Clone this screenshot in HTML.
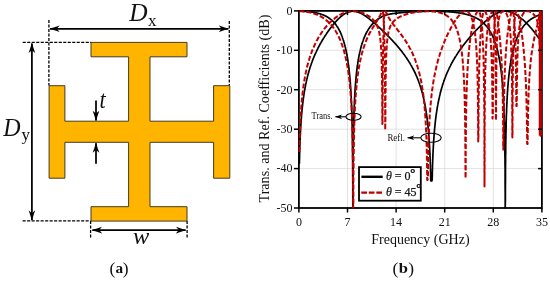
<!DOCTYPE html>
<html><head><meta charset="utf-8"><title>Figure</title>
<style>html,body{margin:0;padding:0;background:#fff}svg{display:block}text{font-family:"Liberation Serif",serif;fill:#111}</style></head>
<body>
<svg width="550" height="281" viewBox="0 0 550 281">
<rect width="550" height="281" fill="#fff"/>
<defs><marker id="ah" viewBox="0 0 10 8" refX="9.3" refY="4" markerWidth="10.4" markerHeight="8.3" markerUnits="userSpaceOnUse" orient="auto-start-reverse"><path d="M0,0.8 Q5,2.6 10,4 Q5,5.4 0,7.2 L2.7,4 Z" fill="#000" stroke="none"/></marker><marker id="ah2" viewBox="0 0 8 6" refX="7.6" refY="3" markerWidth="7" markerHeight="5.2" markerUnits="userSpaceOnUse" orient="auto-start-reverse"><path d="M0,0.3 L8,3 L0,5.7 L2,3 Z" fill="#000"/></marker></defs>
<g id="unit-cell">
<polygon points="91.0,42.4 187.0,42.4 187.0,56.8 150.0,56.8 150.0,121.2 213.6,121.2 213.6,85.7 229.8,85.7 229.8,178.2 213.6,178.2 213.6,142.3 150.0,142.3 150.0,206.7 187.0,206.7 187.0,221.1 91.0,221.1 91.0,206.7 128.6,206.7 128.6,142.3 64.9,142.3 64.9,178.2 49.1,178.2 49.1,85.7 64.9,85.7 64.9,121.2 128.6,121.2 128.6,56.8 91.0,56.8" fill="#ffb400" stroke="#453a22" stroke-width="1"/>
<g stroke="#000" stroke-width="1.3" fill="none" stroke-dasharray="3.1 1.4"><path d="M48.9,19.9 V85.5"/><path d="M229.3,21 V85.5"/><path d="M22.7,42.3 H91"/><path d="M22.6,220.9 H90.5"/><path d="M90.6,221 V237.5"/><path d="M187.1,221 V238"/></g>
<g stroke="#000" stroke-width="1.75" fill="none"><path d="M50,28.8 H228.4" marker-start="url(#ah)" marker-end="url(#ah)"/><path d="M31.9,43.4 V220" marker-start="url(#ah)" marker-end="url(#ah)"/><path d="M92.4,230.1 H185.6" marker-start="url(#ah)" marker-end="url(#ah)"/><path d="M96,100.4 V120.4" marker-end="url(#ah)"/><path d="M96,163.8 V143.2" marker-end="url(#ah)"/></g>
<text font-size="26"><tspan x="129.3" y="21.2" font-style="italic" textLength="18.3" lengthAdjust="spacingAndGlyphs">D</tspan><tspan x="147.9" y="26.3" font-size="17">x</tspan></text>
<text font-size="26"><tspan x="3.3" y="136" font-style="italic" textLength="17.3" lengthAdjust="spacingAndGlyphs">D</tspan><tspan x="21.4" y="139.8" font-size="17">y</tspan></text>
<text x="99.6" y="107.6" font-size="24.5" font-style="italic" textLength="6.2" lengthAdjust="spacingAndGlyphs">t</text>
<text x="132.9" y="244.4" font-size="22.5" font-style="italic" textLength="16.3" lengthAdjust="spacingAndGlyphs">w</text>
<text id="label-a" font-size="17.4"><tspan x="109.5" y="273.9">(</tspan><tspan x="115.5" y="273.1" font-size="13.8" font-weight="bold" textLength="7.6" lengthAdjust="spacingAndGlyphs">a</tspan><tspan x="122.7" y="273.9">)</tspan></text>
</g>
<g id="chart">
<g stroke="#d6d6d6" stroke-width="0.7" fill="none"><path d="M347.5,10.9 V208.0"/><path d="M396.1,10.9 V208.0"/><path d="M444.7,10.9 V208.0"/><path d="M493.3,10.9 V208.0"/><path d="M298.9,50.3 H541.9"/><path d="M298.9,89.7 H541.9"/><path d="M298.9,129.2 H541.9"/><path d="M298.9,168.6 H541.9"/></g>
<rect x="298.9" y="10.9" width="243.0" height="197.1" fill="none" stroke="#000" stroke-width="1.8"/>
<clipPath id="cp"><rect x="297.9" y="9.7" width="245.0" height="199.3"/></clipPath>
<g clip-path="url(#cp)" fill="none" stroke-linejoin="round">
<path d="M299.4,11.2 L299.8,11.2 L300.1,11.2 L300.5,11.2 L300.8,11.2 L301.2,11.2 L301.6,11.2 L301.9,11.2 L302.3,11.3 L302.7,11.3 L303.0,11.3 L303.4,11.3 L303.8,11.3 L304.1,11.3 L304.5,11.4 L304.8,11.4 L305.2,11.4 L305.6,11.4 L305.9,11.5 L306.3,11.5 L306.7,11.5 L307.0,11.5 L307.3,11.6 L307.7,11.6 L308.0,11.6 L308.3,11.7 L308.6,11.7 L309.0,11.7 L309.3,11.8 L309.6,11.8 L309.9,11.8 L310.2,11.9 L310.6,11.9 L310.9,11.9 L311.2,12.0 L311.5,12.0 L311.9,12.1 L312.2,12.1 L312.5,12.2 L312.8,12.2 L313.2,12.3 L313.5,12.3 L313.8,12.4 L314.1,12.4 L314.4,12.5 L314.8,12.6 L315.1,12.6 L315.4,12.7 L315.7,12.8 L316.1,12.8 L316.4,12.9 L316.7,13.0 L317.0,13.0 L317.4,13.1 L317.6,13.2 L317.9,13.3 L318.2,13.3 L318.5,13.4 L318.8,13.5 L319.0,13.6 L319.3,13.6 L319.6,13.7 L319.9,13.8 L320.2,13.9 L320.5,14.0 L320.7,14.1 L321.0,14.2 L321.3,14.3 L321.6,14.4 L321.9,14.5 L322.2,14.6 L322.4,14.7 L322.7,14.8 L323.0,14.9 L323.3,15.0 L323.6,15.1 L323.9,15.2 L324.1,15.4 L324.4,15.5 L324.7,15.6 L324.9,15.7 L325.1,15.8 L325.4,15.9 L325.6,16.1 L325.9,16.2 L326.1,16.3 L326.4,16.4 L326.6,16.6 L326.8,16.7 L327.1,16.8 L327.3,17.0 L327.6,17.1 L327.8,17.3 L328.0,17.4 L328.3,17.6 L328.5,17.7 L328.8,17.9 L329.0,18.1 L329.3,18.2 L329.5,18.4 L329.7,18.6 L329.9,18.7 L330.1,18.9 L330.3,19.0 L330.5,19.2 L330.8,19.3 L331.0,19.5 L331.2,19.7 L331.4,19.8 L331.6,20.0 L331.8,20.2 L332.0,20.4 L332.2,20.6 L332.4,20.7 L332.6,20.9 L332.8,21.1 L333.0,21.3 L333.2,21.5 L333.4,21.7 L333.6,21.9 L333.8,22.2 L334.0,22.4 L334.2,22.6 L334.4,22.8 L334.6,23.1 L334.7,23.3 L334.9,23.4 L335.1,23.6 L335.2,23.8 L335.4,24.0 L335.6,24.3 L335.7,24.5 L335.9,24.7 L336.0,24.9 L336.2,25.1 L336.4,25.3 L336.5,25.6 L336.7,25.8 L336.8,26.0 L337.0,26.3 L337.2,26.5 L337.3,26.8 L337.5,27.0 L337.7,27.3 L337.8,27.5 L338.0,27.8 L338.1,28.1 L338.3,28.3 L338.5,28.6 L338.6,28.9 L338.8,29.2 L338.9,29.5 L339.1,29.8 L339.2,30.0 L339.3,30.3 L339.5,30.5 L339.6,30.7 L339.7,31.0 L339.8,31.2 L340.0,31.5 L340.1,31.7 L340.2,32.0 L340.3,32.2 L340.4,32.5 L340.6,32.8 L340.7,33.0 L340.8,33.3 L340.9,33.6 L341.0,33.9 L341.2,34.2 L341.3,34.5 L341.4,34.8 L341.5,35.1 L341.6,35.4 L341.8,35.7 L341.9,36.0 L342.0,36.3 L342.1,36.6 L342.3,36.9 L342.4,37.3 L342.5,37.6 L342.6,38.0 L342.7,38.3 L342.9,38.7 L343.0,39.0 L343.1,39.4 L343.2,39.8 L343.3,40.1 L343.5,40.5 L343.6,40.9 L343.7,41.3 L343.8,41.7 L343.9,42.0 L344.0,42.3 L344.1,42.5 L344.2,42.8 L344.2,43.1 L344.3,43.4 L344.4,43.7 L344.5,44.0 L344.6,44.3 L344.6,44.6 L344.7,44.9 L344.8,45.2 L344.9,45.5 L345.0,45.8 L345.0,46.1 L345.1,46.5 L345.2,46.8 L345.3,47.1 L345.4,47.5 L345.4,47.8 L345.5,48.1 L345.6,48.5 L345.7,48.8 L345.8,49.2 L345.8,49.6 L345.9,49.9 L346.0,50.3 L346.1,50.7 L346.2,51.1 L346.2,51.5 L346.3,51.9 L346.4,52.3 L346.5,52.7 L346.6,53.1 L346.7,53.5 L346.7,53.9 L346.8,54.3 L346.9,54.8 L347.0,55.2 L347.1,55.7 L347.1,56.1 L347.2,56.6 L347.3,57.0 L347.4,57.5 L347.5,58.0 L347.5,58.5 L347.6,59.0 L347.7,59.5 L347.8,60.0 L347.9,60.5 L347.9,61.1 L348.0,61.6 L348.1,62.2 L348.2,62.7 L348.3,63.3 L348.3,63.9 L348.4,64.5 L348.5,65.1 L348.6,65.7 L348.6,66.0 L348.7,66.4 L348.7,66.7 L348.8,67.0 L348.8,67.3 L348.8,67.7 L348.9,68.0 L348.9,68.3 L349.0,68.7 L349.0,69.0 L349.0,69.4 L349.1,69.7 L349.1,70.1 L349.2,70.4 L349.2,70.8 L349.2,71.2 L349.3,71.5 L349.3,71.9 L349.4,72.3 L349.4,72.7 L349.4,73.1 L349.5,73.5 L349.5,73.9 L349.6,74.3 L349.6,74.7 L349.6,75.1 L349.7,75.5 L349.7,75.9 L349.8,76.4 L349.8,76.8 L349.8,77.2 L349.9,77.7 L349.9,78.1 L350.0,78.6 L350.0,79.1 L350.0,79.5 L350.1,80.0 L350.1,80.5 L350.2,81.0 L350.2,81.5 L350.2,82.0 L350.3,82.5 L350.3,83.1 L350.4,83.6 L350.4,84.1 L350.4,84.7 L350.5,85.3 L350.5,85.8 L350.6,86.4 L350.6,87.0 L350.6,87.6 L350.7,88.2 L350.7,88.8 L350.8,89.5 L350.8,90.1 L350.8,90.8 L350.9,91.4 L350.9,92.1 L351.0,92.8 L351.0,93.5 L351.1,94.3 L351.1,95.0 L351.1,95.8 L351.2,96.6 L351.2,97.4 L351.3,98.2 L351.3,99.0 L351.3,99.9 L351.4,100.8 L351.4,101.7 L351.5,102.6 L351.5,103.5 L351.5,104.5 L351.6,105.5 L351.6,106.6 L351.7,107.7 L351.7,108.8 L351.7,109.9 L351.8,111.1 L351.8,112.3 L351.9,113.6 L351.9,114.9 L351.9,116.3 L352.0,117.7 L352.0,119.2 L352.1,120.8 L352.1,122.5 L352.1,124.2 L352.2,126.0 L352.2,127.9 L352.3,130.0 L352.3,132.1 L352.3,134.4 L352.4,136.9 L352.4,139.6 L352.5,142.5 L352.5,145.6 L352.5,149.1 L352.6,153.0 L352.6,157.4 L352.7,162.4 L352.7,168.3 L352.7,175.4 L352.8,184.4 L352.8,196.7 L352.9,207.7 L353.0,207.5 L353.0,191.6 L353.1,180.8 L353.1,172.6 L353.2,166.0 L353.2,160.5 L353.2,155.7 L353.3,151.6 L353.3,147.9 L353.4,144.5 L353.4,141.5 L353.4,138.7 L353.5,136.1 L353.5,133.7 L353.6,131.5 L353.6,129.4 L353.6,127.4 L353.7,125.5 L353.7,123.7 L353.8,122.0 L353.8,120.4 L353.8,118.9 L353.9,117.4 L353.9,116.0 L354.0,114.7 L354.0,113.4 L354.0,112.2 L354.1,110.9 L354.1,109.8 L354.2,108.7 L354.2,107.6 L354.2,106.5 L354.3,105.5 L354.3,104.5 L354.4,103.6 L354.4,102.6 L354.4,101.7 L354.5,100.8 L354.5,100.0 L354.6,99.1 L354.6,98.3 L354.6,97.5 L354.7,96.7 L354.7,96.0 L354.8,95.2 L354.8,94.5 L354.8,93.8 L354.9,93.1 L354.9,92.4 L355.0,91.7 L355.0,91.1 L355.0,90.4 L355.1,89.8 L355.1,89.2 L355.2,88.6 L355.2,88.0 L355.2,87.4 L355.3,86.8 L355.3,86.2 L355.4,85.7 L355.4,85.1 L355.5,84.6 L355.5,84.1 L355.5,83.5 L355.6,83.0 L355.6,82.5 L355.7,82.0 L355.7,81.5 L355.7,81.1 L355.8,80.6 L355.8,80.1 L355.9,79.7 L355.9,79.2 L355.9,78.8 L356.0,78.3 L356.0,77.9 L356.1,77.4 L356.1,77.0 L356.1,76.6 L356.2,76.2 L356.2,75.8 L356.3,75.4 L356.3,75.0 L356.3,74.6 L356.4,74.2 L356.4,73.8 L356.5,73.4 L356.5,73.1 L356.5,72.7 L356.6,72.3 L356.6,72.0 L356.7,71.6 L356.7,71.3 L356.7,70.9 L356.8,70.6 L356.8,70.2 L356.9,69.9 L356.9,69.6 L356.9,69.2 L357.0,68.9 L357.0,68.6 L357.1,68.3 L357.1,67.9 L357.1,67.6 L357.2,67.3 L357.3,66.7 L357.3,66.1 L357.4,65.5 L357.5,64.9 L357.6,64.4 L357.7,63.8 L357.8,63.3 L357.8,62.7 L357.9,62.2 L358.0,61.7 L358.1,61.2 L358.2,60.7 L358.2,60.2 L358.3,59.7 L358.4,59.3 L358.5,58.8 L358.6,58.3 L358.6,57.9 L358.7,57.4 L358.8,57.0 L358.9,56.6 L359.0,56.1 L359.0,55.7 L359.1,55.3 L359.2,54.9 L359.3,54.5 L359.4,54.1 L359.4,53.7 L359.5,53.4 L359.6,53.0 L359.7,52.6 L359.8,52.2 L359.8,51.9 L359.9,51.5 L360.0,51.2 L360.1,50.8 L360.2,50.5 L360.3,50.1 L360.3,49.8 L360.4,49.5 L360.5,49.1 L360.6,48.8 L360.7,48.5 L360.7,48.2 L360.8,47.9 L360.9,47.6 L361.0,47.3 L361.1,47.0 L361.1,46.7 L361.2,46.4 L361.3,46.1 L361.4,45.8 L361.5,45.5 L361.5,45.3 L361.6,45.0 L361.7,44.7 L361.8,44.3 L361.9,43.9 L362.1,43.5 L362.2,43.1 L362.3,42.8 L362.4,42.4 L362.6,42.0 L362.7,41.7 L362.8,41.3 L362.9,41.0 L363.0,40.6 L363.2,40.3 L363.3,40.0 L363.4,39.6 L363.5,39.3 L363.6,39.0 L363.8,38.7 L363.9,38.4 L364.0,38.1 L364.1,37.8 L364.2,37.5 L364.4,37.2 L364.5,36.9 L364.6,36.6 L364.7,36.3 L364.9,36.0 L365.0,35.8 L365.1,35.5 L365.2,35.2 L365.3,35.0 L365.5,34.7 L365.6,34.5 L365.7,34.2 L365.8,34.0 L365.9,33.7 L366.1,33.5 L366.2,33.2 L366.3,33.0 L366.4,32.8 L366.5,32.6 L366.7,32.2 L366.9,32.0 L367.0,31.7 L367.2,31.4 L367.4,31.1 L367.5,30.8 L367.7,30.5 L367.8,30.3 L368.0,30.0 L368.2,29.7 L368.3,29.5 L368.5,29.2 L368.6,29.0 L368.8,28.7 L369.0,28.5 L369.1,28.3 L369.3,28.0 L369.5,27.8 L369.6,27.6 L369.8,27.3 L369.9,27.1 L370.1,26.9 L370.3,26.7 L370.4,26.5 L370.6,26.3 L370.7,26.0 L370.9,25.8 L371.1,25.6 L371.2,25.4 L371.4,25.2 L371.6,25.1 L371.7,24.9 L371.9,24.6 L372.1,24.4 L372.3,24.2 L372.5,23.9 L372.7,23.7 L372.9,23.5 L373.1,23.3 L373.3,23.1 L373.5,22.9 L373.7,22.7 L373.9,22.5 L374.1,22.3 L374.3,22.1 L374.5,21.9 L374.7,21.7 L374.9,21.5 L375.1,21.4 L375.3,21.2 L375.5,21.0 L375.8,20.8 L376.0,20.7 L376.2,20.5 L376.4,20.3 L376.6,20.2 L376.8,20.0 L377.0,19.9 L377.2,19.7 L377.4,19.5 L377.6,19.4 L377.8,19.2 L378.1,19.1 L378.3,18.9 L378.5,18.7 L378.8,18.6 L379.0,18.4 L379.3,18.2 L379.5,18.1 L379.7,17.9 L380.0,17.8 L380.2,17.7 L380.5,17.5 L380.7,17.4 L381.0,17.3 L381.2,17.1 L381.4,17.0 L381.7,16.9 L381.9,16.7 L382.2,16.6 L382.4,16.5 L382.7,16.4 L382.9,16.3 L383.2,16.2 L383.5,16.0 L383.7,15.9 L384.0,15.8 L384.3,15.7 L384.6,15.6 L384.9,15.5 L385.2,15.4 L385.4,15.3 L385.7,15.2 L386.0,15.1 L386.3,15.0 L386.6,14.9 L386.8,14.9 L387.1,14.8 L387.4,14.7 L387.7,14.6 L388.0,14.5 L388.3,14.5 L388.5,14.4 L388.9,14.3 L389.2,14.3 L389.5,14.2 L389.8,14.1 L390.2,14.1 L390.5,14.0 L390.8,13.9 L391.1,13.9 L391.4,13.8 L391.8,13.8 L392.1,13.7 L392.4,13.7 L392.7,13.6 L393.1,13.6 L393.4,13.5 L393.7,13.5 L394.0,13.5 L394.4,13.4 L394.7,13.4 L395.0,13.3 L395.3,13.3 L395.6,13.3 L396.0,13.2 L396.3,13.2 L396.6,13.2 L396.9,13.1 L397.3,13.1 L397.6,13.1 L397.9,13.0 L398.2,13.0 L398.6,13.0 L398.9,12.9 L399.2,12.9 L399.5,12.9 L399.8,12.8 L400.2,12.8 L400.5,12.8 L400.8,12.7 L401.1,12.7 L401.5,12.7 L401.8,12.7 L402.1,12.6 L402.4,12.6 L402.7,12.6 L403.1,12.5 L403.4,12.5 L403.7,12.5 L404.0,12.5 L404.4,12.4 L404.7,12.4 L405.0,12.4 L405.4,12.4 L405.7,12.3 L406.1,12.3 L406.5,12.3 L406.8,12.2 L407.2,12.2 L407.6,12.2 L407.9,12.1 L408.3,12.1 L408.6,12.1 L409.0,12.1 L409.4,12.0 L409.7,12.0 L410.1,12.0 L410.5,12.0 L410.8,11.9 L411.2,11.9 L411.5,11.9 L411.9,11.9 L412.3,11.8 L412.6,11.8 L413.0,11.8 L413.4,11.8 L413.7,11.7 L414.1,11.7 L414.5,11.7 L414.8,11.7 L415.2,11.7 L415.5,11.6 L415.9,11.6 L416.3,11.6 L416.6,11.6 L417.0,11.6 L417.4,11.5 L417.7,11.5 L418.1,11.5 L418.4,11.5 L418.8,11.5 L419.2,11.5 L419.5,11.4 L419.9,11.4 L420.3,11.4 L420.6,11.4 L421.0,11.4 L421.4,11.4 L421.7,11.4 L422.1,11.3 L422.4,11.3 L422.8,11.3 L423.2,11.3 L423.5,11.3 L423.9,11.3 L424.3,11.3 L424.6,11.3 L425.0,11.3 L425.4,11.3 L425.7,11.3 L426.1,11.2 L426.4,11.2 L426.8,11.2 L427.2,11.2 L427.5,11.2 L427.9,11.2 L428.3,11.2 L428.6,11.2 L429.0,11.2 L429.3,11.2 L429.7,11.2 L430.1,11.2 L430.4,11.2 L430.8,11.2 L431.2,11.2 L431.5,11.2 L431.9,11.2 L432.3,11.2 L432.6,11.2 L433.0,11.2 L433.3,11.2 L433.7,11.2 L434.1,11.2 L434.4,11.2 L434.8,11.2 L435.2,11.2 L435.5,11.2 L435.9,11.2 L436.2,11.2 L436.6,11.2 L437.0,11.3 L437.3,11.3 L437.7,11.3 L438.1,11.3 L438.4,11.3 L438.8,11.3 L439.2,11.3 L439.5,11.3 L439.9,11.3 L440.2,11.3 L440.6,11.4 L441.0,11.4 L441.3,11.4 L441.7,11.4 L442.1,11.4 L442.4,11.4 L442.8,11.4 L443.1,11.5 L443.5,11.5 L443.9,11.5 L444.2,11.5 L444.6,11.5 L445.0,11.5 L445.3,11.6 L445.7,11.6 L446.1,11.6 L446.4,11.6 L446.8,11.6 L447.1,11.7 L447.5,11.7 L447.9,11.7 L448.2,11.7 L448.6,11.8 L449.0,11.8 L449.3,11.8 L449.7,11.9 L450.0,11.9 L450.4,11.9 L450.7,11.9 L451.1,12.0 L451.4,12.0 L451.7,12.0 L452.0,12.1 L452.3,12.1 L452.7,12.1 L453.0,12.2 L453.3,12.2 L453.6,12.2 L454.0,12.3 L454.3,12.3 L454.6,12.3 L454.9,12.4 L455.3,12.4 L455.6,12.4 L455.9,12.5 L456.2,12.5 L456.5,12.6 L456.9,12.6 L457.2,12.6 L457.5,12.7 L457.8,12.7 L458.2,12.8 L458.5,12.8 L458.8,12.9 L459.1,12.9 L459.5,13.0 L459.8,13.0 L460.1,13.1 L460.4,13.1 L460.7,13.2 L461.1,13.3 L461.4,13.3 L461.7,13.4 L462.0,13.4 L462.4,13.5 L462.7,13.6 L463.0,13.6 L463.3,13.7 L463.6,13.8 L464.0,13.8 L464.3,13.9 L464.6,14.0 L464.9,14.0 L465.3,14.1 L465.6,14.2 L465.9,14.3 L466.2,14.3 L466.4,14.4 L466.7,14.5 L467.0,14.5 L467.3,14.6 L467.6,14.7 L467.8,14.8 L468.1,14.9 L468.4,14.9 L468.7,15.0 L469.0,15.1 L469.3,15.2 L469.5,15.3 L469.8,15.4 L470.1,15.5 L470.4,15.6 L470.7,15.7 L471.0,15.7 L471.2,15.8 L471.5,15.9 L471.8,16.1 L472.1,16.2 L472.4,16.3 L472.6,16.4 L472.9,16.5 L473.2,16.6 L473.5,16.7 L473.8,16.8 L474.1,17.0 L474.3,17.1 L474.6,17.2 L474.8,17.3 L475.1,17.4 L475.3,17.5 L475.6,17.7 L475.8,17.8 L476.0,17.9 L476.3,18.0 L476.5,18.1 L476.8,18.3 L477.0,18.4 L477.3,18.5 L477.5,18.7 L477.7,18.8 L478.0,19.0 L478.2,19.1 L478.5,19.2 L478.7,19.4 L478.9,19.5 L479.2,19.7 L479.4,19.9 L479.7,20.0 L479.9,20.2 L480.2,20.3 L480.4,20.5 L480.6,20.7 L480.9,20.9 L481.1,21.0 L481.3,21.2 L481.5,21.3 L481.7,21.5 L481.9,21.6 L482.1,21.8 L482.3,22.0 L482.5,22.1 L482.7,22.3 L482.9,22.5 L483.1,22.7 L483.3,22.8 L483.5,23.0 L483.7,23.2 L483.9,23.4 L484.1,23.6 L484.3,23.8 L484.5,24.0 L484.7,24.2 L484.9,24.4 L485.1,24.6 L485.3,24.8 L485.5,25.1 L485.7,25.3 L485.9,25.5 L486.1,25.7 L486.3,26.0 L486.5,26.2 L486.7,26.4 L486.8,26.5 L487.0,26.7 L487.1,27.0 L487.3,27.2 L487.5,27.4 L487.6,27.6 L487.8,27.8 L487.9,28.0 L488.1,28.2 L488.3,28.5 L488.4,28.7 L488.6,28.9 L488.8,29.2 L488.9,29.4 L489.1,29.6 L489.2,29.9 L489.4,30.1 L489.6,30.4 L489.7,30.6 L489.9,30.9 L490.0,31.2 L490.2,31.4 L490.4,31.7 L490.5,32.0 L490.7,32.3 L490.9,32.6 L491.0,32.9 L491.2,33.2 L491.3,33.5 L491.5,33.7 L491.6,33.9 L491.7,34.2 L491.8,34.4 L491.9,34.7 L492.1,34.9 L492.2,35.2 L492.3,35.4 L492.4,35.7 L492.5,35.9 L492.7,36.2 L492.8,36.5 L492.9,36.7 L493.0,37.0 L493.2,37.3 L493.3,37.6 L493.4,37.8 L493.5,38.1 L493.6,38.4 L493.8,38.7 L493.9,39.0 L494.0,39.3 L494.1,39.6 L494.2,40.0 L494.4,40.3 L494.5,40.6 L494.6,40.9 L494.7,41.3 L494.8,41.6 L495.0,41.9 L495.1,42.3 L495.2,42.6 L495.3,43.0 L495.5,43.4 L495.6,43.7 L495.7,44.1 L495.8,44.5 L495.9,44.9 L496.1,45.3 L496.2,45.7 L496.3,46.0 L496.3,46.2 L496.4,46.5 L496.5,46.8 L496.6,47.1 L496.7,47.4 L496.7,47.6 L496.8,47.9 L496.9,48.2 L497.0,48.5 L497.1,48.8 L497.1,49.1 L497.2,49.4 L497.3,49.8 L497.4,50.1 L497.5,50.4 L497.6,50.7 L497.6,51.1 L497.7,51.4 L497.8,51.7 L497.9,52.1 L498.0,52.4 L498.0,52.8 L498.1,53.1 L498.2,53.5 L498.3,53.8 L498.4,54.2 L498.4,54.6 L498.5,55.0 L498.6,55.3 L498.7,55.7 L498.8,56.1 L498.8,56.5 L498.9,56.9 L499.0,57.3 L499.1,57.8 L499.2,58.2 L499.2,58.6 L499.3,59.0 L499.4,59.5 L499.5,59.9 L499.6,60.4 L499.6,60.8 L499.7,61.3 L499.8,61.8 L499.9,62.3 L500.0,62.8 L500.1,63.3 L500.1,63.8 L500.2,64.3 L500.3,64.8 L500.4,65.4 L500.5,65.9 L500.5,66.5 L500.6,67.0 L500.7,67.6 L500.8,68.2 L500.9,68.8 L500.9,69.4 L501.0,70.0 L501.1,70.3 L501.1,70.7 L501.1,71.0 L501.2,71.3 L501.2,71.6 L501.3,72.0 L501.3,72.3 L501.3,72.6 L501.4,73.0 L501.4,73.3 L501.5,73.7 L501.5,74.0 L501.5,74.4 L501.6,74.8 L501.6,75.1 L501.7,75.5 L501.7,75.9 L501.7,76.2 L501.8,76.6 L501.8,77.0 L501.9,77.4 L501.9,77.8 L501.9,78.2 L502.0,78.6 L502.0,79.0 L502.1,79.5 L502.1,79.9 L502.2,80.3 L502.2,80.7 L502.2,81.2 L502.3,81.6 L502.3,82.1 L502.4,82.5 L502.4,83.0 L502.4,83.5 L502.5,84.0 L502.5,84.5 L502.6,84.9 L502.6,85.4 L502.6,86.0 L502.7,86.5 L502.7,87.0 L502.8,87.5 L502.8,88.1 L502.8,88.6 L502.9,89.2 L502.9,89.8 L503.0,90.3 L503.0,90.9 L503.0,91.5 L503.1,92.1 L503.1,92.8 L503.2,93.4 L503.2,94.1 L503.2,94.7 L503.3,95.4 L503.3,96.1 L503.4,96.8 L503.4,97.5 L503.4,98.2 L503.5,99.0 L503.5,99.8 L503.6,100.5 L503.6,101.3 L503.6,102.2 L503.7,103.0 L503.7,103.9 L503.8,104.8 L503.8,105.7 L503.8,106.6 L503.9,107.6 L503.9,108.6 L504.0,109.6 L504.0,110.7 L504.0,111.8 L504.1,112.9 L504.1,114.0 L504.2,115.3 L504.2,116.5 L504.2,117.8 L504.3,119.2 L504.3,120.6 L504.4,122.0 L504.4,123.6 L504.5,125.2 L504.5,126.9 L504.5,128.6 L504.6,130.5 L504.6,132.5 L504.7,134.6 L504.7,136.8 L504.7,139.2 L504.8,141.8 L504.8,144.6 L504.9,147.6 L504.9,151.0 L504.9,154.7 L505.0,158.8 L505.0,163.5 L505.1,169.0 L505.1,175.6 L505.1,183.7 L505.2,194.4 L505.2,207.7 L505.4,200.6 L505.4,188.2 L505.5,179.0 L505.5,171.9 L505.5,165.9 L505.6,160.9 L505.6,156.5 L505.7,152.6 L505.7,149.1 L505.7,145.9 L505.8,143.0 L505.8,140.4 L505.9,137.9 L505.9,135.6 L505.9,133.4 L506.0,131.4 L506.0,129.4 L506.1,127.6 L506.1,125.9 L506.1,124.3 L506.2,122.7 L506.2,121.2 L506.3,119.8 L506.3,118.4 L506.3,117.1 L506.4,115.8 L506.4,114.6 L506.5,113.4 L506.5,112.2 L506.6,111.1 L506.6,110.0 L506.6,109.0 L506.7,108.0 L506.7,107.0 L506.8,106.1 L506.8,105.1 L506.8,104.2 L506.9,103.4 L506.9,102.5 L507.0,101.7 L507.0,100.8 L507.0,100.1 L507.1,99.3 L507.1,98.5 L507.2,97.8 L507.2,97.0 L507.2,96.3 L507.3,95.6 L507.3,95.0 L507.4,94.3 L507.4,93.6 L507.4,93.0 L507.5,92.4 L507.5,91.7 L507.6,91.1 L507.6,90.5 L507.6,89.9 L507.7,89.4 L507.7,88.8 L507.8,88.2 L507.8,87.7 L507.8,87.2 L507.9,86.6 L507.9,86.1 L508.0,85.6 L508.0,85.1 L508.0,84.6 L508.1,84.1 L508.1,83.6 L508.2,83.1 L508.2,82.7 L508.2,82.2 L508.3,81.7 L508.3,81.3 L508.4,80.8 L508.4,80.4 L508.4,80.0 L508.5,79.5 L508.5,79.1 L508.6,78.7 L508.6,78.3 L508.6,77.9 L508.7,77.5 L508.7,77.1 L508.8,76.7 L508.8,76.3 L508.9,75.9 L508.9,75.5 L508.9,75.2 L509.0,74.8 L509.0,74.4 L509.1,74.1 L509.1,73.7 L509.1,73.4 L509.2,73.0 L509.2,72.7 L509.3,72.3 L509.3,72.0 L509.3,71.6 L509.4,71.3 L509.4,71.0 L509.5,70.7 L509.5,70.3 L509.5,70.0 L509.6,69.7 L509.6,69.4 L509.7,68.8 L509.8,68.2 L509.9,67.6 L509.9,67.0 L510.0,66.4 L510.1,65.9 L510.2,65.3 L510.3,64.8 L510.3,64.2 L510.4,63.7 L510.5,63.2 L510.6,62.7 L510.7,62.2 L510.7,61.7 L510.8,61.2 L510.9,60.8 L511.0,60.3 L511.1,59.8 L511.2,59.4 L511.2,58.9 L511.3,58.5 L511.4,58.1 L511.5,57.6 L511.6,57.2 L511.6,56.8 L511.7,56.4 L511.8,56.0 L511.9,55.6 L512.0,55.2 L512.0,54.8 L512.1,54.4 L512.2,54.0 L512.3,53.7 L512.4,53.3 L512.4,52.9 L512.5,52.6 L512.6,52.2 L512.7,51.9 L512.8,51.5 L512.8,51.2 L512.9,50.9 L513.0,50.5 L513.1,50.2 L513.2,49.9 L513.2,49.6 L513.3,49.2 L513.4,48.9 L513.5,48.6 L513.6,48.3 L513.7,48.0 L513.7,47.7 L513.8,47.4 L513.9,47.1 L514.0,46.8 L514.1,46.5 L514.1,46.3 L514.2,46.0 L514.3,45.7 L514.4,45.4 L514.5,45.2 L514.6,44.8 L514.7,44.4 L514.8,44.0 L514.9,43.6 L515.1,43.2 L515.2,42.8 L515.3,42.5 L515.4,42.1 L515.5,41.8 L515.7,41.4 L515.8,41.1 L515.9,40.7 L516.0,40.4 L516.2,40.1 L516.3,39.7 L516.4,39.4 L516.5,39.1 L516.6,38.8 L516.8,38.5 L516.9,38.2 L517.0,37.9 L517.1,37.6 L517.2,37.3 L517.4,37.0 L517.5,36.7 L517.6,36.4 L517.7,36.2 L517.9,35.9 L518.0,35.6 L518.1,35.4 L518.2,35.1 L518.3,34.8 L518.5,34.6 L518.6,34.3 L518.7,34.1 L518.8,33.8 L518.9,33.6 L519.1,33.4 L519.2,33.1 L519.3,32.9 L519.4,32.7 L519.6,32.3 L519.7,32.0 L519.9,31.8 L520.1,31.5 L520.2,31.2 L520.4,30.9 L520.6,30.6 L520.7,30.4 L520.9,30.1 L521.0,29.8 L521.2,29.6 L521.4,29.3 L521.5,29.1 L521.7,28.8 L521.8,28.6 L522.0,28.3 L522.2,28.1 L522.3,27.9 L522.5,27.6 L522.7,27.4 L522.8,27.2 L523.0,27.0 L523.1,26.8 L523.3,26.5 L523.5,26.3 L523.6,26.1 L523.8,25.9 L523.9,25.7 L524.1,25.5 L524.3,25.3 L524.4,25.1 L524.6,24.9 L524.8,24.7 L525.0,24.5 L525.2,24.3 L525.4,24.0 L525.6,23.8 L525.8,23.6 L526.0,23.4 L526.2,23.2 L526.4,23.0 L526.6,22.8 L526.8,22.6 L527.0,22.4 L527.2,22.2 L527.4,22.0 L527.6,21.8 L527.8,21.7 L528.0,21.5 L528.2,21.3 L528.4,21.1 L528.6,21.0 L528.8,20.8 L529.0,20.6 L529.2,20.5 L529.4,20.3 L529.6,20.2 L529.8,20.0 L530.0,19.9 L530.3,19.7 L530.5,19.5 L530.8,19.3 L531.0,19.2 L531.2,19.0 L531.5,18.8 L531.7,18.7 L532.0,18.5 L532.2,18.4 L532.5,18.2 L532.7,18.1 L532.9,17.9 L533.2,17.8 L533.4,17.7 L533.7,17.5 L533.9,17.4 L534.2,17.3 L534.4,17.1 L534.6,17.0 L534.9,16.9 L535.1,16.8 L535.4,16.6 L535.6,16.5 L535.8,16.4 L536.1,16.3 L536.3,16.2 L536.6,16.1 L536.8,16.0 L537.1,15.8 L537.4,15.7 L537.7,15.6 L537.9,15.5 L538.2,15.4 L538.5,15.2 L538.8,15.1 L539.1,15.0 L539.4,14.9 L539.6,14.8 L539.9,14.7 L540.2,14.6 L540.5,14.5 L540.8,14.4 L541.1,14.3 L541.3,14.3 L541.5,14.2" stroke="#000" stroke-width="1.7"/>
<path d="M299.4,163.7 L299.4,161.8 L299.5,160.0 L299.5,158.2 L299.6,156.6 L299.6,155.0 L299.6,153.5 L299.7,152.1 L299.7,150.7 L299.8,149.3 L299.8,148.1 L299.8,146.8 L299.9,145.6 L299.9,144.5 L300.0,143.4 L300.0,142.3 L300.0,141.3 L300.1,140.2 L300.1,139.3 L300.2,138.3 L300.2,137.4 L300.2,136.5 L300.3,135.6 L300.3,134.7 L300.4,133.9 L300.4,133.1 L300.4,132.3 L300.5,131.5 L300.5,130.7 L300.6,130.0 L300.6,129.2 L300.6,128.5 L300.7,127.8 L300.7,127.1 L300.8,126.4 L300.8,125.8 L300.8,125.1 L300.9,124.5 L300.9,123.9 L301.0,123.3 L301.0,122.7 L301.0,122.1 L301.1,121.5 L301.1,120.9 L301.2,120.3 L301.2,119.8 L301.3,119.2 L301.3,118.7 L301.3,118.2 L301.4,117.7 L301.4,117.1 L301.5,116.6 L301.5,116.1 L301.5,115.7 L301.6,115.2 L301.6,114.7 L301.7,114.2 L301.7,113.8 L301.7,113.3 L301.8,112.8 L301.8,112.4 L301.9,112.0 L301.9,111.5 L301.9,111.1 L302.0,110.7 L302.0,110.2 L302.1,109.8 L302.1,109.4 L302.1,109.0 L302.2,108.6 L302.2,108.2 L302.3,107.8 L302.3,107.4 L302.3,107.1 L302.4,106.7 L302.4,106.3 L302.5,105.9 L302.5,105.6 L302.5,105.2 L302.6,104.9 L302.6,104.5 L302.7,104.1 L302.7,103.8 L302.7,103.5 L302.8,103.1 L302.8,102.8 L302.9,102.4 L302.9,102.1 L302.9,101.8 L303.0,101.5 L303.0,101.1 L303.1,100.8 L303.1,100.5 L303.1,100.2 L303.2,99.9 L303.3,99.3 L303.3,98.7 L303.4,98.1 L303.5,97.5 L303.6,96.9 L303.7,96.4 L303.8,95.8 L303.8,95.3 L303.9,94.7 L304.0,94.2 L304.1,93.7 L304.2,93.2 L304.2,92.6 L304.3,92.1 L304.4,91.7 L304.5,91.2 L304.6,90.7 L304.6,90.2 L304.7,89.8 L304.8,89.3 L304.9,88.8 L305.0,88.4 L305.0,87.9 L305.1,87.5 L305.2,87.1 L305.3,86.7 L305.4,86.2 L305.4,85.8 L305.5,85.4 L305.6,85.0 L305.7,84.6 L305.8,84.2 L305.9,83.8 L305.9,83.4 L306.0,83.0 L306.1,82.6 L306.2,82.3 L306.3,81.9 L306.3,81.5 L306.4,81.2 L306.5,80.8 L306.6,80.4 L306.7,80.1 L306.7,79.7 L306.8,79.4 L306.9,79.0 L307.0,78.7 L307.1,78.4 L307.1,78.0 L307.2,77.7 L307.3,77.4 L307.4,77.0 L307.5,76.7 L307.5,76.4 L307.6,76.1 L307.7,75.8 L307.8,75.4 L307.9,75.1 L307.9,74.8 L308.0,74.5 L308.1,74.2 L308.2,73.9 L308.3,73.6 L308.4,73.3 L308.4,73.0 L308.5,72.7 L308.6,72.5 L308.7,72.2 L308.8,71.9 L308.8,71.6 L308.9,71.3 L309.0,71.0 L309.1,70.8 L309.2,70.5 L309.2,70.2 L309.3,69.9 L309.4,69.5 L309.6,69.2 L309.7,68.8 L309.8,68.4 L309.9,68.0 L310.0,67.6 L310.2,67.2 L310.3,66.9 L310.4,66.5 L310.5,66.1 L310.7,65.7 L310.8,65.4 L310.9,65.0 L311.0,64.7 L311.1,64.3 L311.3,64.0 L311.4,63.6 L311.5,63.3 L311.6,63.0 L311.7,62.6 L311.9,62.3 L312.0,62.0 L312.1,61.6 L312.2,61.3 L312.3,61.0 L312.5,60.7 L312.6,60.3 L312.7,60.0 L312.8,59.7 L313.0,59.4 L313.1,59.1 L313.2,58.8 L313.3,58.5 L313.4,58.2 L313.6,57.9 L313.7,57.6 L313.8,57.3 L313.9,57.0 L314.0,56.7 L314.2,56.4 L314.3,56.1 L314.4,55.9 L314.5,55.6 L314.6,55.3 L314.8,55.0 L314.9,54.7 L315.0,54.5 L315.1,54.2 L315.3,53.9 L315.4,53.6 L315.5,53.4 L315.6,53.1 L315.7,52.8 L315.9,52.6 L316.0,52.3 L316.1,52.1 L316.2,51.8 L316.3,51.5 L316.5,51.3 L316.6,51.0 L316.7,50.8 L316.8,50.5 L316.9,50.3 L317.1,50.0 L317.2,49.8 L317.3,49.5 L317.4,49.3 L317.6,49.0 L317.7,48.8 L317.8,48.6 L317.9,48.3 L318.0,48.1 L318.2,47.8 L318.3,47.6 L318.4,47.4 L318.5,47.1 L318.6,46.9 L318.8,46.7 L318.9,46.4 L319.0,46.2 L319.2,45.9 L319.3,45.6 L319.5,45.3 L319.7,45.0 L319.8,44.7 L320.0,44.4 L320.1,44.1 L320.3,43.8 L320.5,43.5 L320.6,43.2 L320.8,42.9 L320.9,42.7 L321.1,42.4 L321.3,42.1 L321.4,41.8 L321.6,41.5 L321.8,41.3 L321.9,41.0 L322.1,40.7 L322.2,40.4 L322.4,40.2 L322.6,39.9 L322.7,39.6 L322.9,39.4 L323.0,39.1 L323.2,38.8 L323.4,38.6 L323.5,38.3 L323.7,38.0 L323.9,37.8 L324.0,37.5 L324.2,37.3 L324.3,37.0 L324.5,36.8 L324.7,36.5 L324.8,36.2 L325.0,36.0 L325.1,35.7 L325.3,35.5 L325.5,35.3 L325.6,35.0 L325.8,34.8 L325.9,34.5 L326.1,34.3 L326.3,34.0 L326.4,33.8 L326.6,33.6 L326.8,33.3 L326.9,33.1 L327.1,32.8 L327.2,32.6 L327.4,32.4 L327.6,32.1 L327.7,31.9 L327.9,31.7 L328.0,31.4 L328.2,31.2 L328.4,31.0 L328.5,30.8 L328.7,30.5 L328.9,30.3 L329.0,30.1 L329.2,29.9 L329.3,29.6 L329.5,29.4 L329.7,29.2 L329.8,29.0 L330.0,28.8 L330.1,28.6 L330.3,28.3 L330.5,28.1 L330.6,27.9 L330.8,27.7 L331.0,27.5 L331.1,27.3 L331.3,27.1 L331.4,26.9 L331.6,26.6 L331.8,26.4 L331.9,26.2 L332.1,26.0 L332.2,25.8 L332.4,25.6 L332.6,25.4 L332.7,25.2 L332.9,25.0 L333.1,24.8 L333.2,24.6 L333.4,24.4 L333.5,24.2 L333.7,24.0 L333.9,23.9 L334.0,23.7 L334.2,23.5 L334.3,23.3 L334.5,23.1 L334.7,22.9 L334.9,22.6 L335.1,22.4 L335.3,22.2 L335.5,21.9 L335.7,21.7 L335.9,21.5 L336.1,21.3 L336.3,21.0 L336.5,20.8 L336.7,20.6 L336.9,20.4 L337.1,20.2 L337.3,20.0 L337.5,19.8 L337.7,19.6 L337.9,19.3 L338.1,19.1 L338.3,18.9 L338.5,18.7 L338.7,18.5 L338.9,18.4 L339.1,18.2 L339.3,18.0 L339.5,17.8 L339.8,17.6 L340.0,17.4 L340.2,17.2 L340.4,17.0 L340.6,16.9 L340.8,16.7 L341.0,16.5 L341.2,16.3 L341.4,16.2 L341.6,16.0 L341.8,15.9 L342.0,15.7 L342.2,15.5 L342.4,15.4 L342.6,15.2 L342.8,15.1 L343.0,14.9 L343.2,14.7 L343.5,14.6 L343.7,14.4 L343.9,14.2 L344.2,14.1 L344.4,13.9 L344.7,13.8 L344.9,13.6 L345.2,13.5 L345.4,13.3 L345.6,13.2 L345.9,13.1 L346.1,13.0 L346.4,12.8 L346.6,12.7 L346.9,12.6 L347.1,12.5 L347.4,12.4 L347.7,12.3 L347.9,12.1 L348.2,12.0 L348.5,11.9 L348.8,11.8 L349.1,11.8 L349.4,11.7 L349.6,11.6 L349.9,11.5 L350.2,11.5 L350.6,11.4 L350.9,11.4 L351.2,11.3 L351.5,11.3 L351.9,11.2 L352.2,11.2 L352.6,11.2 L352.9,11.2 L353.3,11.2 L353.7,11.2 L354.0,11.2 L354.4,11.3 L354.7,11.3 L355.0,11.4 L355.3,11.4 L355.7,11.5 L356.0,11.5 L356.3,11.6 L356.6,11.7 L356.9,11.8 L357.1,11.8 L357.4,11.9 L357.7,12.0 L358.0,12.1 L358.3,12.2 L358.6,12.3 L358.8,12.4 L359.1,12.5 L359.4,12.7 L359.7,12.8 L359.9,12.9 L360.2,13.0 L360.4,13.1 L360.7,13.2 L360.9,13.3 L361.1,13.5 L361.4,13.6 L361.6,13.7 L361.9,13.8 L362.1,14.0 L362.4,14.1 L362.6,14.3 L362.8,14.4 L363.1,14.5 L363.3,14.7 L363.6,14.8 L363.8,15.0 L364.0,15.1 L364.3,15.3 L364.5,15.4 L364.8,15.6 L365.0,15.8 L365.3,15.9 L365.5,16.1 L365.7,16.3 L366.0,16.4 L366.2,16.6 L366.5,16.8 L366.7,16.9 L367.0,17.1 L367.2,17.3 L367.4,17.4 L367.6,17.6 L367.8,17.7 L368.0,17.9 L368.2,18.0 L368.4,18.2 L368.6,18.4 L368.8,18.5 L369.0,18.7 L369.2,18.8 L369.4,19.0 L369.6,19.1 L369.8,19.3 L370.0,19.5 L370.2,19.6 L370.4,19.8 L370.6,19.9 L370.8,20.1 L371.0,20.3 L371.2,20.4 L371.4,20.6 L371.6,20.8 L371.8,20.9 L372.0,21.1 L372.2,21.3 L372.4,21.4 L372.6,21.6 L372.8,21.8 L373.0,22.0 L373.2,22.1 L373.5,22.3 L373.7,22.5 L373.9,22.6 L374.1,22.8 L374.3,23.0 L374.5,23.2 L374.7,23.3 L374.9,23.5 L375.1,23.7 L375.3,23.9 L375.5,24.1 L375.7,24.2 L375.9,24.4 L376.1,24.6 L376.3,24.8 L376.5,24.9 L376.7,25.1 L376.9,25.3 L377.1,25.5 L377.3,25.7 L377.5,25.9 L377.7,26.0 L377.9,26.2 L378.1,26.4 L378.3,26.6 L378.5,26.8 L378.7,27.0 L378.9,27.1 L379.1,27.3 L379.3,27.5 L379.5,27.7 L379.7,27.9 L379.9,28.1 L380.1,28.3 L380.3,28.5 L380.5,28.6 L380.7,28.8 L380.9,29.0 L381.1,29.2 L381.3,29.4 L381.5,29.6 L381.7,29.8 L381.9,30.0 L382.1,30.2 L382.3,30.4 L382.5,30.5 L382.7,30.7 L382.9,30.9 L383.1,31.1 L383.3,31.3 L383.5,31.5 L383.7,31.7 L383.9,31.9 L384.1,32.1 L384.3,32.3 L384.5,32.5 L384.8,32.7 L385.0,32.9 L385.2,33.1 L385.4,33.3 L385.6,33.5 L385.8,33.7 L386.0,33.9 L386.2,34.1 L386.4,34.3 L386.6,34.5 L386.8,34.7 L387.0,34.9 L387.2,35.1 L387.4,35.3 L387.6,35.5 L387.8,35.7 L388.0,35.9 L388.2,36.1 L388.4,36.3 L388.6,36.5 L388.8,36.7 L389.0,36.9 L389.2,37.1 L389.4,37.3 L389.6,37.6 L389.8,37.8 L390.0,38.0 L390.2,38.2 L390.4,38.4 L390.6,38.6 L390.8,38.8 L391.0,39.0 L391.2,39.2 L391.4,39.5 L391.6,39.7 L391.8,39.9 L392.0,40.1 L392.2,40.3 L392.4,40.5 L392.6,40.7 L392.8,41.0 L393.0,41.2 L393.2,41.4 L393.4,41.6 L393.6,41.8 L393.8,42.1 L394.0,42.3 L394.2,42.5 L394.4,42.7 L394.6,42.9 L394.8,43.2 L395.0,43.4 L395.2,43.6 L395.4,43.9 L395.6,44.1 L395.8,44.3 L396.1,44.5 L396.3,44.8 L396.5,45.0 L396.7,45.2 L396.9,45.5 L397.1,45.7 L397.3,45.9 L397.5,46.2 L397.6,46.4 L397.8,46.5 L397.9,46.7 L398.1,46.9 L398.3,47.1 L398.4,47.3 L398.6,47.5 L398.8,47.7 L398.9,47.9 L399.1,48.1 L399.2,48.3 L399.4,48.5 L399.6,48.7 L399.7,48.9 L399.9,49.1 L400.0,49.3 L400.2,49.5 L400.4,49.7 L400.5,49.9 L400.7,50.1 L400.9,50.3 L401.0,50.5 L401.2,50.7 L401.3,50.9 L401.5,51.1 L401.7,51.3 L401.8,51.5 L402.0,51.7 L402.1,51.9 L402.3,52.1 L402.5,52.3 L402.6,52.5 L402.8,52.8 L403.0,53.0 L403.1,53.2 L403.3,53.4 L403.4,53.6 L403.6,53.8 L403.8,54.1 L403.9,54.3 L404.1,54.5 L404.2,54.7 L404.4,54.9 L404.6,55.2 L404.7,55.4 L404.9,55.6 L405.1,55.8 L405.2,56.1 L405.4,56.3 L405.5,56.5 L405.7,56.8 L405.9,57.0 L406.0,57.2 L406.2,57.5 L406.3,57.7 L406.5,57.9 L406.7,58.2 L406.8,58.4 L407.0,58.6 L407.1,58.9 L407.3,59.1 L407.5,59.4 L407.6,59.6 L407.8,59.9 L408.0,60.1 L408.1,60.4 L408.3,60.6 L408.4,60.9 L408.6,61.1 L408.8,61.4 L408.9,61.6 L409.1,61.9 L409.2,62.2 L409.4,62.4 L409.6,62.7 L409.7,63.0 L409.9,63.2 L410.1,63.5 L410.2,63.8 L410.4,64.0 L410.5,64.3 L410.7,64.6 L410.9,64.9 L411.0,65.1 L411.2,65.4 L411.3,65.7 L411.5,66.0 L411.7,66.3 L411.8,66.6 L412.0,66.9 L412.2,67.2 L412.3,67.5 L412.5,67.8 L412.6,68.1 L412.8,68.4 L412.9,68.6 L413.0,68.8 L413.2,69.1 L413.3,69.3 L413.4,69.5 L413.5,69.8 L413.6,70.0 L413.8,70.2 L413.9,70.5 L414.0,70.7 L414.1,71.0 L414.3,71.2 L414.4,71.5 L414.5,71.7 L414.6,72.0 L414.7,72.2 L414.9,72.5 L415.0,72.7 L415.1,73.0 L415.2,73.2 L415.3,73.5 L415.5,73.8 L415.6,74.0 L415.7,74.3 L415.8,74.6 L415.9,74.8 L416.1,75.1 L416.2,75.4 L416.3,75.7 L416.4,75.9 L416.6,76.2 L416.7,76.5 L416.8,76.8 L416.9,77.1 L417.0,77.4 L417.2,77.7 L417.3,78.0 L417.4,78.3 L417.5,78.5 L417.6,78.9 L417.8,79.2 L417.9,79.5 L418.0,79.8 L418.1,80.1 L418.2,80.4 L418.4,80.7 L418.5,81.0 L418.6,81.4 L418.7,81.7 L418.9,82.0 L419.0,82.3 L419.1,82.7 L419.2,83.0 L419.3,83.4 L419.5,83.7 L419.6,84.1 L419.7,84.4 L419.8,84.8 L419.9,85.1 L420.1,85.5 L420.2,85.9 L420.3,86.2 L420.4,86.6 L420.5,87.0 L420.7,87.4 L420.8,87.7 L420.9,88.1 L421.0,88.5 L421.2,88.9 L421.2,89.2 L421.3,89.5 L421.4,89.8 L421.5,90.0 L421.6,90.3 L421.6,90.6 L421.7,90.9 L421.8,91.2 L421.9,91.4 L422.0,91.7 L422.0,92.0 L422.1,92.3 L422.2,92.6 L422.3,92.9 L422.4,93.2 L422.4,93.5 L422.5,93.8 L422.6,94.1 L422.7,94.4 L422.8,94.8 L422.8,95.1 L422.9,95.4 L423.0,95.7 L423.1,96.1 L423.2,96.4 L423.3,96.7 L423.3,97.1 L423.4,97.4 L423.5,97.7 L423.6,98.1 L423.7,98.4 L423.7,98.8 L423.8,99.2 L423.9,99.5 L424.0,99.9 L424.1,100.3 L424.1,100.6 L424.2,101.0 L424.3,101.4 L424.4,101.8 L424.5,102.2 L424.5,102.6 L424.6,103.0 L424.7,103.4 L424.8,103.8 L424.9,104.2 L424.9,104.6 L425.0,105.0 L425.1,105.5 L425.2,105.9 L425.3,106.3 L425.4,106.8 L425.4,107.2 L425.5,107.7 L425.6,108.2 L425.7,108.6 L425.8,109.1 L425.8,109.6 L425.9,110.1 L426.0,110.6 L426.1,111.1 L426.2,111.6 L426.2,112.1 L426.3,112.7 L426.4,113.2 L426.5,113.8 L426.6,114.3 L426.6,114.9 L426.7,115.5 L426.8,116.1 L426.9,116.6 L427.0,117.3 L427.0,117.9 L427.1,118.2 L427.1,118.5 L427.2,118.8 L427.2,119.1 L427.2,119.5 L427.3,119.8 L427.3,120.1 L427.4,120.5 L427.4,120.8 L427.4,121.1 L427.5,121.5 L427.5,121.8 L427.6,122.2 L427.6,122.5 L427.7,122.9 L427.7,123.3 L427.7,123.6 L427.8,124.0 L427.8,124.4 L427.9,124.8 L427.9,125.1 L427.9,125.5 L428.0,125.9 L428.0,126.3 L428.1,126.7 L428.1,127.1 L428.1,127.5 L428.2,128.0 L428.2,128.4 L428.3,128.8 L428.3,129.2 L428.3,129.7 L428.4,130.1 L428.4,130.6 L428.5,131.0 L428.5,131.5 L428.5,132.0 L428.6,132.4 L428.6,132.9 L428.7,133.4 L428.7,133.9 L428.7,134.4 L428.8,134.9 L428.8,135.4 L428.9,136.0 L428.9,136.5 L428.9,137.0 L429.0,137.6 L429.0,138.2 L429.1,138.7 L429.1,139.3 L429.1,139.9 L429.2,140.5 L429.2,141.1 L429.3,141.7 L429.3,142.4 L429.3,143.0 L429.4,143.7 L429.4,144.3 L429.5,145.0 L429.5,145.7 L429.5,146.4 L429.6,147.2 L429.6,147.9 L429.7,148.7 L429.7,149.5 L429.7,150.3 L429.8,151.1 L429.8,151.9 L429.9,152.8 L429.9,153.7 L430.0,154.6 L430.0,155.5 L430.0,156.5 L430.1,157.4 L430.1,158.5 L430.2,159.5 L430.2,160.6 L430.2,161.7 L430.3,162.8 L430.3,164.0 L430.4,165.3 L430.4,166.6 L430.4,167.9 L430.5,169.3 L430.5,170.7 L430.6,172.2 L430.6,173.8 L430.6,175.4 L430.7,177.2 L430.7,179.0 L430.8,181.0 L431.1,181.0 L431.5,181.0 L431.8,181.0 L432.2,179.4 L432.2,177.5 L432.3,175.8 L432.3,174.1 L432.3,172.5 L432.4,171.0 L432.4,169.5 L432.5,168.1 L432.5,166.7 L432.5,165.5 L432.6,164.2 L432.6,163.0 L432.7,161.8 L432.7,160.7 L432.7,159.6 L432.8,158.6 L432.8,157.5 L432.9,156.5 L432.9,155.6 L432.9,154.6 L433.0,153.7 L433.0,152.8 L433.1,152.0 L433.1,151.1 L433.1,150.3 L433.2,149.5 L433.2,148.7 L433.3,147.9 L433.3,147.2 L433.3,146.4 L433.4,145.7 L433.4,145.0 L433.5,144.3 L433.5,143.6 L433.5,142.9 L433.6,142.3 L433.6,141.6 L433.7,141.0 L433.7,140.4 L433.7,139.8 L433.8,139.2 L433.8,138.6 L433.9,138.0 L433.9,137.5 L433.9,136.9 L434.0,136.3 L434.0,135.8 L434.1,135.3 L434.1,134.7 L434.1,134.2 L434.2,133.7 L434.2,133.2 L434.3,132.7 L434.3,132.2 L434.4,131.8 L434.4,131.3 L434.4,130.8 L434.5,130.4 L434.5,129.9 L434.6,129.4 L434.6,129.0 L434.6,128.6 L434.7,128.1 L434.7,127.7 L434.8,127.3 L434.8,126.9 L434.8,126.5 L434.9,126.0 L434.9,125.6 L435.0,125.2 L435.0,124.8 L435.0,124.5 L435.1,124.1 L435.1,123.7 L435.2,123.3 L435.2,122.9 L435.2,122.6 L435.3,122.2 L435.3,121.9 L435.4,121.5 L435.4,121.1 L435.4,120.8 L435.5,120.4 L435.5,120.1 L435.6,119.8 L435.6,119.4 L435.6,119.1 L435.7,118.8 L435.7,118.4 L435.8,118.1 L435.8,117.8 L435.8,117.5 L435.9,117.2 L435.9,116.8 L436.0,116.5 L436.0,115.9 L436.1,115.3 L436.2,114.7 L436.3,114.1 L436.4,113.6 L436.4,113.0 L436.5,112.5 L436.6,111.9 L436.7,111.4 L436.8,110.8 L436.9,110.3 L436.9,109.8 L437.0,109.3 L437.1,108.8 L437.2,108.3 L437.3,107.8 L437.3,107.4 L437.4,106.9 L437.5,106.4 L437.6,106.0 L437.7,105.5 L437.7,105.1 L437.8,104.6 L437.9,104.2 L438.0,103.7 L438.1,103.3 L438.1,102.9 L438.2,102.5 L438.3,102.1 L438.4,101.7 L438.5,101.3 L438.5,100.9 L438.6,100.5 L438.7,100.1 L438.8,99.7 L438.9,99.3 L439.0,98.9 L439.0,98.6 L439.1,98.2 L439.2,97.8 L439.3,97.5 L439.4,97.1 L439.4,96.7 L439.5,96.4 L439.6,96.0 L439.7,95.7 L439.8,95.4 L439.8,95.0 L439.9,94.7 L440.0,94.4 L440.1,94.0 L440.2,93.7 L440.2,93.4 L440.3,93.1 L440.4,92.7 L440.5,92.4 L440.6,92.1 L440.6,91.8 L440.7,91.5 L440.8,91.2 L440.9,90.9 L441.0,90.6 L441.0,90.3 L441.1,90.0 L441.2,89.7 L441.3,89.4 L441.4,89.1 L441.5,88.8 L441.5,88.6 L441.6,88.3 L441.7,88.0 L441.8,87.7 L441.9,87.4 L441.9,87.2 L442.0,86.9 L442.1,86.5 L442.3,86.1 L442.4,85.7 L442.5,85.3 L442.6,84.9 L442.7,84.5 L442.9,84.2 L443.0,83.8 L443.1,83.4 L443.2,83.0 L443.3,82.7 L443.5,82.3 L443.6,82.0 L443.7,81.6 L443.8,81.3 L444.0,80.9 L444.1,80.6 L444.2,80.2 L444.3,79.9 L444.4,79.6 L444.6,79.2 L444.7,78.9 L444.8,78.6 L444.9,78.2 L445.0,77.9 L445.2,77.6 L445.3,77.3 L445.4,77.0 L445.5,76.7 L445.7,76.3 L445.8,76.0 L445.9,75.7 L446.0,75.4 L446.1,75.1 L446.3,74.8 L446.4,74.5 L446.5,74.2 L446.6,74.0 L446.7,73.7 L446.9,73.4 L447.0,73.1 L447.1,72.8 L447.2,72.5 L447.3,72.2 L447.5,72.0 L447.6,71.7 L447.7,71.4 L447.8,71.1 L448.0,70.9 L448.1,70.6 L448.2,70.3 L448.3,70.1 L448.4,69.8 L448.6,69.6 L448.7,69.3 L448.8,69.0 L448.9,68.8 L449.0,68.5 L449.2,68.3 L449.3,68.0 L449.4,67.8 L449.5,67.5 L449.6,67.3 L449.8,67.0 L449.9,66.8 L450.0,66.5 L450.1,66.3 L450.3,66.1 L450.4,65.8 L450.5,65.6 L450.6,65.3 L450.7,65.1 L450.9,64.9 L451.0,64.6 L451.1,64.4 L451.2,64.2 L451.3,63.9 L451.5,63.6 L451.7,63.3 L451.8,63.0 L452.0,62.7 L452.1,62.4 L452.3,62.1 L452.5,61.9 L452.6,61.6 L452.8,61.3 L453.0,61.0 L453.1,60.7 L453.3,60.4 L453.4,60.1 L453.6,59.9 L453.8,59.6 L453.9,59.3 L454.1,59.0 L454.2,58.8 L454.4,58.5 L454.6,58.2 L454.7,57.9 L454.9,57.7 L455.1,57.4 L455.2,57.1 L455.4,56.9 L455.5,56.6 L455.7,56.4 L455.9,56.1 L456.0,55.8 L456.2,55.6 L456.3,55.3 L456.5,55.1 L456.7,54.8 L456.8,54.6 L457.0,54.3 L457.2,54.1 L457.3,53.8 L457.5,53.6 L457.6,53.3 L457.8,53.1 L458.0,52.8 L458.1,52.6 L458.3,52.4 L458.4,52.1 L458.6,51.9 L458.8,51.7 L458.9,51.4 L459.1,51.2 L459.3,50.9 L459.4,50.7 L459.6,50.5 L459.7,50.2 L459.9,50.0 L460.1,49.8 L460.2,49.6 L460.4,49.3 L460.5,49.1 L460.7,48.9 L460.9,48.7 L461.0,48.4 L461.2,48.2 L461.3,48.0 L461.5,47.8 L461.7,47.5 L461.8,47.3 L462.0,47.1 L462.2,46.9 L462.3,46.7 L462.5,46.4 L462.6,46.2 L462.8,46.0 L463.0,45.8 L463.1,45.6 L463.3,45.4 L463.4,45.2 L463.6,45.0 L463.8,44.7 L463.9,44.5 L464.1,44.3 L464.3,44.1 L464.4,43.9 L464.6,43.7 L464.7,43.5 L464.9,43.3 L465.1,43.1 L465.2,42.9 L465.4,42.7 L465.5,42.5 L465.7,42.3 L465.9,42.1 L466.0,41.9 L466.2,41.7 L466.4,41.5 L466.5,41.3 L466.7,41.1 L466.8,40.9 L467.0,40.7 L467.2,40.5 L467.3,40.3 L467.5,40.1 L467.6,39.9 L467.8,39.7 L468.0,39.5 L468.1,39.3 L468.3,39.1 L468.5,38.9 L468.6,38.7 L468.8,38.5 L468.9,38.3 L469.1,38.1 L469.3,38.0 L469.4,37.8 L469.6,37.6 L469.8,37.3 L470.0,37.1 L470.2,36.9 L470.4,36.6 L470.6,36.4 L470.8,36.2 L471.0,35.9 L471.2,35.7 L471.4,35.5 L471.6,35.3 L471.8,35.0 L472.0,34.8 L472.2,34.6 L472.4,34.4 L472.6,34.1 L472.8,33.9 L473.0,33.7 L473.2,33.5 L473.4,33.2 L473.6,33.0 L473.8,32.8 L474.0,32.6 L474.2,32.4 L474.4,32.1 L474.6,31.9 L474.8,31.7 L475.0,31.5 L475.2,31.3 L475.4,31.1 L475.6,30.8 L475.8,30.6 L476.0,30.4 L476.2,30.2 L476.4,30.0 L476.6,29.8 L476.8,29.6 L477.0,29.4 L477.3,29.1 L477.5,28.9 L477.7,28.7 L477.9,28.5 L478.1,28.3 L478.3,28.1 L478.5,27.9 L478.7,27.7 L478.9,27.5 L479.1,27.3 L479.3,27.1 L479.5,26.9 L479.7,26.7 L479.9,26.5 L480.1,26.3 L480.3,26.1 L480.5,25.9 L480.7,25.7 L480.9,25.5 L481.1,25.3 L481.3,25.1 L481.5,24.9 L481.7,24.7 L481.9,24.5 L482.1,24.3 L482.3,24.2 L482.5,24.0 L482.7,23.8 L482.9,23.6 L483.1,23.4 L483.3,23.2 L483.5,23.0 L483.7,22.8 L483.9,22.7 L484.1,22.5 L484.3,22.3 L484.5,22.1 L484.7,21.9 L484.9,21.8 L485.1,21.6 L485.3,21.4 L485.5,21.2 L485.7,21.0 L485.9,20.9 L486.1,20.7 L486.3,20.5 L486.5,20.4 L486.7,20.2 L486.9,20.0 L487.1,19.8 L487.3,19.7 L487.5,19.5 L487.7,19.3 L487.9,19.2 L488.1,19.0 L488.3,18.9 L488.6,18.7 L488.8,18.5 L489.0,18.4 L489.2,18.2 L489.4,18.1 L489.6,17.9 L489.8,17.8 L490.0,17.6 L490.2,17.4 L490.4,17.3 L490.6,17.2 L490.8,17.0 L491.1,16.8 L491.3,16.6 L491.5,16.5 L491.8,16.3 L492.0,16.1 L492.3,16.0 L492.5,15.8 L492.7,15.6 L493.0,15.5 L493.2,15.3 L493.5,15.2 L493.7,15.0 L494.0,14.9 L494.2,14.7 L494.4,14.6 L494.7,14.4 L494.9,14.3 L495.2,14.2 L495.4,14.0 L495.7,13.9 L495.9,13.8 L496.1,13.6 L496.4,13.5 L496.6,13.4 L496.9,13.3 L497.1,13.2 L497.3,13.1 L497.6,13.0 L497.9,12.8 L498.2,12.7 L498.4,12.6 L498.7,12.5 L499.0,12.4 L499.3,12.3 L499.6,12.2 L499.9,12.1 L500.1,12.0 L500.4,11.9 L500.7,11.8 L501.0,11.8 L501.3,11.7 L501.6,11.6 L501.9,11.5 L502.2,11.5 L502.6,11.4 L502.9,11.4 L503.2,11.3 L503.5,11.3 L503.8,11.3 L504.2,11.2 L504.6,11.2 L504.9,11.2 L505.3,11.2 L505.7,11.2 L506.0,11.2 L506.4,11.2 L506.8,11.3 L507.1,11.3 L507.4,11.3 L507.7,11.4 L508.0,11.4 L508.4,11.5 L508.7,11.6 L509.0,11.6 L509.3,11.7 L509.6,11.8 L509.9,11.9 L510.2,11.9 L510.5,12.0 L510.7,12.1 L511.0,12.2 L511.3,12.3 L511.6,12.4 L511.9,12.5 L512.2,12.6 L512.4,12.7 L512.7,12.9 L513.0,13.0 L513.2,13.1 L513.5,13.2 L513.7,13.3 L513.9,13.4 L514.2,13.6 L514.4,13.7 L514.7,13.8 L514.9,14.0 L515.1,14.1 L515.4,14.2 L515.6,14.4 L515.9,14.5 L516.1,14.7 L516.4,14.8 L516.6,15.0 L516.8,15.1 L517.1,15.3 L517.3,15.4 L517.6,15.6 L517.8,15.8 L518.1,15.9 L518.3,16.1 L518.5,16.3 L518.8,16.4 L519.0,16.6 L519.2,16.8 L519.4,16.9 L519.6,17.1 L519.8,17.2 L520.0,17.4 L520.2,17.5 L520.4,17.7 L520.6,17.9 L520.8,18.0 L521.0,18.2 L521.2,18.3 L521.4,18.5 L521.6,18.7 L521.8,18.9 L522.0,19.0 L522.2,19.2 L522.5,19.4 L522.7,19.5 L522.9,19.7 L523.1,19.9 L523.3,20.1 L523.5,20.3 L523.7,20.4 L523.9,20.6 L524.1,20.8 L524.3,21.0 L524.5,21.2 L524.7,21.4 L524.9,21.6 L525.1,21.8 L525.3,22.0 L525.5,22.2 L525.7,22.4 L525.9,22.6 L526.1,22.8 L526.3,23.0 L526.5,23.2 L526.7,23.4 L526.9,23.6 L527.1,23.8 L527.3,24.0 L527.5,24.2 L527.7,24.4 L527.9,24.6 L528.1,24.8 L528.3,25.0 L528.5,25.2 L528.7,25.5 L528.9,25.7 L529.1,25.9 L529.3,26.1 L529.5,26.3 L529.7,26.6 L529.9,26.8 L530.1,27.0 L530.3,27.2 L530.5,27.5 L530.7,27.7 L530.9,27.9 L531.1,28.2 L531.3,28.4 L531.5,28.6 L531.7,28.8 L531.9,29.0 L532.0,29.2 L532.2,29.4 L532.3,29.6 L532.5,29.8 L532.7,30.0 L532.8,30.2 L533.0,30.4 L533.1,30.6 L533.3,30.8 L533.5,31.0 L533.6,31.2 L533.8,31.4 L534.0,31.6 L534.1,31.8 L534.3,32.0 L534.4,32.2 L534.6,32.4 L534.8,32.6 L534.9,32.8 L535.1,33.0 L535.2,33.2 L535.4,33.4 L535.6,33.7 L535.7,33.9 L535.9,34.1 L536.1,34.3 L536.2,34.5 L536.4,34.7 L536.5,35.0 L536.7,35.2 L536.9,35.4 L537.0,35.6 L537.2,35.8 L537.3,36.1 L537.5,36.3 L537.7,36.5 L537.8,36.8 L538.0,37.0 L538.2,37.2 L538.3,37.4 L538.5,37.7 L538.6,37.9 L538.8,38.2 L539.0,38.4 L539.1,38.6 L539.3,38.9 L539.4,39.1 L539.6,39.4 L539.8,39.6 L539.9,39.8 L540.1,40.1 L540.2,40.3 L540.4,40.6 L540.6,40.8 L540.7,41.1 L540.9,41.4 L541.1,41.6 L541.2,41.9 L541.4,42.1 L541.5,42.3" stroke="#000" stroke-width="1.7"/>
<path d="M299.4,11.2 L299.8,11.2 L300.1,11.2 L300.5,11.2 L300.8,11.2 L301.2,11.3 L301.6,11.3 L301.9,11.3 L302.3,11.3 L302.7,11.3 L303.0,11.4 L303.3,11.4 L303.7,11.4 L304.0,11.5 L304.3,11.5 L304.6,11.5 L305.0,11.6 L305.3,11.6 L305.6,11.6 L305.9,11.7 L306.3,11.7 L306.6,11.8 L306.9,11.8 L307.2,11.9 L307.5,11.9 L307.9,12.0 L308.2,12.1 L308.5,12.1 L308.8,12.2 L309.2,12.2 L309.5,12.3 L309.8,12.4 L310.1,12.5 L310.5,12.5 L310.7,12.6 L311.0,12.7 L311.3,12.7 L311.6,12.8 L311.9,12.9 L312.1,13.0 L312.4,13.1 L312.7,13.1 L313.0,13.2 L313.3,13.3 L313.6,13.4 L313.8,13.5 L314.1,13.6 L314.4,13.7 L314.7,13.8 L315.0,13.9 L315.3,14.0 L315.5,14.1 L315.8,14.2 L316.1,14.3 L316.4,14.4 L316.7,14.5 L316.9,14.6 L317.2,14.7 L317.5,14.9 L317.8,15.0 L318.0,15.1 L318.3,15.2 L318.5,15.3 L318.8,15.4 L319.0,15.5 L319.2,15.7 L319.5,15.8 L319.7,15.9 L320.0,16.0 L320.2,16.2 L320.5,16.3 L320.7,16.4 L320.9,16.6 L321.2,16.7 L321.4,16.8 L321.7,17.0 L321.9,17.1 L322.2,17.3 L322.4,17.4 L322.6,17.6 L322.9,17.7 L323.1,17.9 L323.4,18.0 L323.6,18.2 L323.9,18.4 L324.1,18.5 L324.3,18.7 L324.6,18.9 L324.8,19.0 L325.0,19.2 L325.2,19.3 L325.4,19.5 L325.6,19.7 L325.8,19.8 L326.0,20.0 L326.2,20.1 L326.4,20.3 L326.6,20.5 L326.8,20.6 L327.0,20.8 L327.2,21.0 L327.4,21.2 L327.6,21.3 L327.8,21.5 L328.0,21.7 L328.2,21.9 L328.5,22.1 L328.7,22.3 L328.9,22.5 L329.1,22.7 L329.3,22.9 L329.5,23.1 L329.7,23.3 L329.9,23.5 L330.1,23.7 L330.3,23.9 L330.5,24.1 L330.7,24.4 L330.9,24.6 L331.1,24.8 L331.3,25.1 L331.4,25.2 L331.6,25.4 L331.8,25.6 L331.9,25.8 L332.1,26.0 L332.2,26.2 L332.4,26.4 L332.6,26.6 L332.7,26.8 L332.9,27.0 L333.1,27.3 L333.2,27.5 L333.4,27.7 L333.5,27.9 L333.7,28.1 L333.9,28.4 L334.0,28.6 L334.2,28.8 L334.3,29.1 L334.5,29.3 L334.7,29.5 L334.8,29.8 L335.0,30.0 L335.2,30.3 L335.3,30.5 L335.5,30.8 L335.6,31.0 L335.8,31.3 L336.0,31.6 L336.1,31.8 L336.3,32.1 L336.4,32.4 L336.6,32.7 L336.8,32.9 L336.9,33.2 L337.1,33.5 L337.2,33.8 L337.4,34.1 L337.6,34.4 L337.7,34.6 L337.8,34.9 L337.9,35.1 L338.1,35.4 L338.2,35.6 L338.3,35.8 L338.4,36.1 L338.5,36.3 L338.7,36.6 L338.8,36.8 L338.9,37.1 L339.0,37.3 L339.1,37.6 L339.3,37.9 L339.4,38.1 L339.5,38.4 L339.6,38.7 L339.8,38.9 L339.9,39.2 L340.0,39.5 L340.1,39.8 L340.2,40.1 L340.4,40.4 L340.5,40.7 L340.6,41.0 L340.7,41.3 L340.8,41.6 L341.0,41.9 L341.1,42.2 L341.2,42.5 L341.3,42.8 L341.4,43.1 L341.6,43.5 L341.7,43.8 L341.8,44.1 L341.9,44.5 L342.1,44.8 L342.2,45.2 L342.3,45.5 L342.4,45.9 L342.5,46.2 L342.7,46.6 L342.8,47.0 L342.9,47.3 L343.0,47.7 L343.1,48.1 L343.3,48.5 L343.4,48.9 L343.5,49.3 L343.6,49.6 L343.7,49.8 L343.7,50.1 L343.8,50.4 L343.9,50.7 L344.0,50.9 L344.1,51.2 L344.2,51.5 L344.2,51.8 L344.3,52.1 L344.4,52.4 L344.5,52.7 L344.6,53.0 L344.6,53.3 L344.7,53.6 L344.8,53.9 L344.9,54.3 L345.0,54.6 L345.0,54.9 L345.1,55.2 L345.2,55.6 L345.3,55.9 L345.4,56.2 L345.4,56.6 L345.5,56.9 L345.6,57.3 L345.7,57.6 L345.8,58.0 L345.8,58.3 L345.9,58.7 L346.0,59.1 L346.1,59.4 L346.2,59.8 L346.2,60.2 L346.3,60.6 L346.4,61.0 L346.5,61.4 L346.6,61.8 L346.7,62.2 L346.7,62.6 L346.8,63.0 L346.9,63.4 L347.0,63.9 L347.1,64.3 L347.1,64.7 L347.2,65.2 L347.3,65.6 L347.4,66.1 L347.5,66.6 L347.5,67.0 L347.6,67.5 L347.7,68.0 L347.8,68.5 L347.9,69.0 L347.9,69.5 L348.0,70.0 L348.1,70.6 L348.2,71.1 L348.3,71.6 L348.3,72.2 L348.4,72.8 L348.5,73.3 L348.6,73.9 L348.7,74.5 L348.8,75.1 L348.8,75.7 L348.9,76.0 L348.9,76.4 L349.0,76.7 L349.0,77.0 L349.0,77.3 L349.1,77.6 L349.1,78.0 L349.2,78.3 L349.2,78.6 L349.2,79.0 L349.3,79.3 L349.3,79.7 L349.4,80.0 L349.4,80.4 L349.4,80.7 L349.5,81.1 L349.5,81.5 L349.6,81.8 L349.6,82.2 L349.6,82.6 L349.7,83.0 L349.7,83.4 L349.8,83.8 L349.8,84.2 L349.8,84.6 L349.9,85.0 L349.9,85.4 L350.0,85.8 L350.0,86.2 L350.0,86.6 L350.1,87.1 L350.1,87.5 L350.2,88.0 L350.2,88.4 L350.2,88.9 L350.3,89.3 L350.3,89.8 L350.4,90.3 L350.4,90.7 L350.4,91.2 L350.5,91.7 L350.5,92.2 L350.6,92.7 L350.6,93.3 L350.6,93.8 L350.7,94.3 L350.7,94.9 L350.8,95.4 L350.8,96.0 L350.8,96.6 L350.9,97.1 L350.9,97.7 L351.0,98.3 L351.0,98.9 L351.1,99.6 L351.1,100.2 L351.1,100.8 L351.2,101.5 L351.2,102.2 L351.3,102.9 L351.3,103.6 L351.3,104.3 L351.4,105.0 L351.4,105.8 L351.5,106.5 L351.5,107.3 L351.5,108.1 L351.6,108.9 L351.6,109.8 L351.7,110.6 L351.7,111.5 L351.7,112.4 L351.8,113.3 L351.8,114.3 L351.9,115.3 L351.9,116.3 L351.9,117.3 L352.0,118.4 L352.0,119.5 L352.1,120.7 L352.1,121.9 L352.1,123.1 L352.2,124.4 L352.2,125.7 L352.3,127.1 L352.3,128.5 L352.3,130.0 L352.4,131.6 L352.4,133.3 L352.5,135.0 L352.5,136.8 L352.5,138.8 L352.6,140.8 L352.6,143.0 L352.7,145.3 L352.7,147.8 L352.7,150.5 L352.8,153.4 L352.8,156.6 L352.9,160.1 L352.9,164.0 L352.9,168.5 L353.0,173.6 L353.0,179.6 L353.1,186.9 L353.1,196.2 L353.2,207.7 L353.4,200.8 L353.4,190.3 L353.4,182.4 L353.5,175.9 L353.5,170.5 L353.6,165.8 L353.6,161.7 L353.6,158.0 L353.7,154.7 L353.7,151.7 L353.8,148.9 L353.8,146.3 L353.8,143.9 L353.9,141.7 L353.9,139.6 L354.0,137.6 L354.0,135.8 L354.0,134.0 L354.1,132.3 L354.1,130.7 L354.2,129.2 L354.2,127.7 L354.2,126.3 L354.3,125.0 L354.3,123.7 L354.4,122.4 L354.4,121.2 L354.4,120.1 L354.5,119.0 L354.5,117.9 L354.6,116.8 L354.6,115.8 L354.6,114.8 L354.7,113.8 L354.7,112.9 L354.8,112.0 L354.8,111.1 L354.8,110.2 L354.9,109.4 L354.9,108.6 L355.0,107.7 L355.0,107.0 L355.0,106.2 L355.1,105.4 L355.1,104.7 L355.2,104.0 L355.2,103.3 L355.2,102.6 L355.3,101.9 L355.3,101.3 L355.4,100.6 L355.4,100.0 L355.5,99.3 L355.5,98.7 L355.5,98.1 L355.6,97.5 L355.6,97.0 L355.7,96.4 L355.7,95.8 L355.7,95.3 L355.8,94.7 L355.8,94.2 L355.9,93.7 L355.9,93.1 L355.9,92.6 L356.0,92.1 L356.0,91.6 L356.1,91.1 L356.1,90.7 L356.1,90.2 L356.2,89.7 L356.2,89.3 L356.3,88.8 L356.3,88.3 L356.3,87.9 L356.4,87.5 L356.4,87.0 L356.5,86.6 L356.5,86.2 L356.5,85.8 L356.6,85.4 L356.6,85.0 L356.7,84.6 L356.7,84.2 L356.7,83.8 L356.8,83.4 L356.8,83.0 L356.9,82.6 L356.9,82.2 L356.9,81.9 L357.0,81.5 L357.0,81.1 L357.1,80.8 L357.1,80.4 L357.1,80.1 L357.2,79.7 L357.2,79.4 L357.3,79.1 L357.3,78.7 L357.3,78.4 L357.4,78.1 L357.4,77.7 L357.5,77.4 L357.5,77.1 L357.5,76.8 L357.6,76.5 L357.6,76.1 L357.7,75.5 L357.8,74.9 L357.9,74.3 L358.0,73.8 L358.0,73.2 L358.1,72.6 L358.2,72.1 L358.3,71.5 L358.4,71.0 L358.4,70.5 L358.5,70.0 L358.6,69.5 L358.7,69.0 L358.8,68.5 L358.8,68.0 L358.9,67.5 L359.0,67.0 L359.1,66.6 L359.2,66.1 L359.2,65.7 L359.3,65.2 L359.4,64.8 L359.5,64.3 L359.6,63.9 L359.6,63.5 L359.7,63.1 L359.8,62.7 L359.9,62.3 L360.0,61.9 L360.1,61.5 L360.1,61.1 L360.2,60.7 L360.3,60.3 L360.4,59.9 L360.5,59.6 L360.5,59.2 L360.6,58.8 L360.7,58.5 L360.8,58.1 L360.9,57.8 L360.9,57.4 L361.0,57.1 L361.1,56.7 L361.2,56.4 L361.3,56.1 L361.3,55.7 L361.4,55.4 L361.5,55.1 L361.6,54.8 L361.7,54.5 L361.7,54.2 L361.8,53.8 L361.9,53.5 L362.0,53.2 L362.1,52.9 L362.2,52.6 L362.2,52.3 L362.3,52.1 L362.4,51.8 L362.5,51.5 L362.6,51.2 L362.6,50.9 L362.7,50.6 L362.8,50.4 L362.9,50.1 L363.0,49.8 L363.1,49.4 L363.2,49.0 L363.3,48.6 L363.4,48.3 L363.6,47.9 L363.7,47.5 L363.8,47.1 L363.9,46.8 L364.0,46.4 L364.2,46.0 L364.3,45.7 L364.4,45.3 L364.5,45.0 L364.7,44.6 L364.8,44.3 L364.9,44.0 L365.0,43.6 L365.1,43.3 L365.3,43.0 L365.4,42.7 L365.5,42.4 L365.6,42.1 L365.7,41.7 L365.9,41.4 L366.0,41.1 L366.1,40.8 L366.2,40.5 L366.3,40.2 L366.5,40.0 L366.6,39.7 L366.7,39.4 L366.8,39.1 L367.0,38.8 L367.1,38.5 L367.2,38.3 L367.3,38.0 L367.4,37.7 L367.6,37.5 L367.7,37.2 L367.8,36.9 L367.9,36.7 L368.0,36.4 L368.2,36.2 L368.3,35.9 L368.4,35.7 L368.5,35.4 L368.6,35.2 L368.8,34.9 L368.9,34.7 L369.0,34.4 L369.1,34.2 L369.3,33.9 L369.4,33.7 L369.5,33.5 L369.6,33.2 L369.7,33.0 L369.9,32.8 L370.0,32.5 L370.2,32.2 L370.3,31.9 L370.5,31.6 L370.7,31.3 L370.8,31.0 L371.0,30.7 L371.1,30.4 L371.3,30.2 L371.5,29.9 L371.6,29.6 L371.8,29.3 L372.0,29.0 L372.1,28.8 L372.3,28.5 L372.4,28.2 L372.6,28.0 L372.8,27.7 L372.9,27.4 L373.1,27.2 L373.2,26.9 L373.4,26.6 L373.6,26.4 L373.7,26.1 L373.9,25.9 L374.1,25.6 L374.2,25.3 L374.4,25.1 L374.5,24.8 L374.7,24.6 L374.9,24.3 L375.0,24.1 L375.2,23.8 L375.3,23.6 L375.5,23.3 L375.7,23.0 L375.8,22.8 L376.0,22.5 L376.2,22.3 L376.3,22.0 L376.5,21.8 L376.6,21.5 L376.8,21.2 L377.0,21.0 L377.1,20.7 L377.3,20.4 L377.4,20.2 L377.6,19.9 L377.8,19.6 L377.9,19.4 L378.1,19.1 L378.3,18.8 L378.4,18.5 L378.6,18.2 L378.7,17.9 L378.9,17.6 L379.1,17.3 L379.2,17.0 L379.3,16.8 L379.5,16.6 L379.6,16.3 L379.7,16.1 L379.8,15.9 L379.9,15.6 L380.1,15.4 L380.2,15.1 L380.3,14.9 L380.4,14.6 L380.6,14.4 L380.7,14.1 L380.8,13.9 L380.9,13.6 L381.0,13.3 L381.2,13.1 L381.3,12.8 L381.4,12.6 L381.5,12.4 L381.6,12.1 L381.8,11.8 L382.0,11.6 L382.1,11.4 L382.3,11.2 L382.7,11.3 L382.8,11.6 L382.9,12.0 L383.0,12.4 L383.1,12.8 L383.2,13.3 L383.3,13.9 L383.3,14.3 L383.3,14.6 L383.4,15.1 L383.4,15.5 L383.5,16.0 L383.5,16.5 L383.5,17.1 L383.6,17.7 L383.6,18.3 L383.7,19.0 L383.7,19.7 L383.7,20.5 L383.8,21.3 L383.8,22.2 L383.9,23.1 L383.9,24.0 L383.9,25.1 L384.0,26.1 L384.0,27.3 L384.1,28.5 L384.1,29.7 L384.1,31.0 L384.2,32.4 L384.2,33.9 L384.3,35.4 L384.3,37.0 L384.3,38.7 L384.4,40.4 L384.4,42.3 L384.5,44.2 L384.5,46.3 L384.5,48.4 L384.6,50.7 L384.6,53.1 L384.7,55.6 L384.7,58.3 L384.8,61.2 L384.8,64.3 L384.8,67.7 L384.9,71.3 L384.9,75.3 L385.0,79.7 L385.0,84.7 L385.0,90.4 L385.1,97.0 L385.1,105.0 L385.2,115.2 L385.2,129.4 L385.2,130.0 L385.4,118.1 L385.4,108.6 L385.5,101.4 L385.5,95.6 L385.6,90.8 L385.6,86.6 L385.6,83.0 L385.7,79.9 L385.7,77.0 L385.8,74.5 L385.8,72.2 L385.8,70.0 L385.9,68.1 L385.9,66.3 L386.0,64.6 L386.0,63.1 L386.0,61.7 L386.1,60.3 L386.1,59.0 L386.2,57.8 L386.2,56.7 L386.2,55.7 L386.3,54.7 L386.3,53.7 L386.4,52.8 L386.4,51.9 L386.4,51.1 L386.5,50.3 L386.5,49.6 L386.6,48.9 L386.6,48.2 L386.6,47.5 L386.7,46.9 L386.7,46.3 L386.8,45.7 L386.8,45.1 L386.8,44.6 L386.9,44.1 L386.9,43.6 L387.0,43.1 L387.0,42.6 L387.1,42.2 L387.1,41.7 L387.1,41.3 L387.2,40.9 L387.2,40.5 L387.3,40.1 L387.3,39.7 L387.3,39.4 L387.4,39.0 L387.4,38.7 L387.5,38.3 L387.5,38.0 L387.5,37.7 L387.6,37.1 L387.7,36.5 L387.8,36.0 L387.9,35.5 L387.9,35.0 L388.0,34.5 L388.1,34.0 L388.2,33.6 L388.3,33.2 L388.3,32.8 L388.4,32.4 L388.5,32.0 L388.6,31.7 L388.7,31.4 L388.7,31.0 L388.8,30.7 L388.9,30.4 L389.0,30.1 L389.1,29.8 L389.1,29.6 L389.3,29.2 L389.4,28.8 L389.5,28.4 L389.6,28.1 L389.8,27.8 L389.9,27.4 L390.0,27.1 L390.1,26.8 L390.2,26.6 L390.4,26.3 L390.5,26.0 L390.6,25.8 L390.7,25.5 L390.8,25.3 L391.0,25.0 L391.2,24.7 L391.3,24.4 L391.5,24.2 L391.7,23.9 L391.8,23.7 L392.0,23.4 L392.1,23.2 L392.3,23.0 L392.5,22.7 L392.6,22.5 L392.8,22.3 L392.9,22.1 L393.1,21.9 L393.3,21.7 L393.5,21.5 L393.7,21.3 L393.9,21.1 L394.1,20.9 L394.3,20.7 L394.5,20.5 L394.7,20.3 L394.9,20.1 L395.1,19.9 L395.3,19.8 L395.5,19.6 L395.7,19.4 L395.9,19.3 L396.1,19.1 L396.3,19.0 L396.6,18.8 L396.8,18.6 L397.1,18.5 L397.3,18.3 L397.5,18.2 L397.8,18.0 L398.0,17.9 L398.3,17.7 L398.5,17.6 L398.8,17.4 L399.0,17.3 L399.2,17.2 L399.5,17.0 L399.7,16.9 L400.0,16.8 L400.2,16.7 L400.4,16.5 L400.7,16.4 L400.9,16.3 L401.2,16.2 L401.4,16.1 L401.7,16.0 L402.0,15.8 L402.3,15.7 L402.5,15.6 L402.8,15.5 L403.1,15.4 L403.4,15.3 L403.7,15.2 L404.0,15.1 L404.2,15.0 L404.5,14.9 L404.8,14.8 L405.1,14.7 L405.4,14.6 L405.7,14.5 L405.9,14.4 L406.2,14.3 L406.5,14.2 L406.8,14.1 L407.1,14.0 L407.4,13.9 L407.6,13.9 L407.9,13.8 L408.2,13.7 L408.5,13.6 L408.8,13.6 L409.0,13.5 L409.3,13.4 L409.6,13.3 L409.9,13.3 L410.2,13.2 L410.5,13.1 L410.8,13.1 L411.1,13.0 L411.5,12.9 L411.8,12.8 L412.1,12.8 L412.4,12.7 L412.8,12.7 L413.1,12.6 L413.4,12.5 L413.7,12.5 L414.1,12.4 L414.4,12.4 L414.7,12.3 L415.0,12.2 L415.3,12.2 L415.7,12.1 L416.0,12.1 L416.3,12.0 L416.6,12.0 L417.0,12.0 L417.3,11.9 L417.6,11.9 L417.9,11.8 L418.2,11.8 L418.6,11.7 L418.9,11.7 L419.2,11.7 L419.5,11.6 L419.9,11.6 L420.2,11.6 L420.5,11.5 L420.8,11.5 L421.2,11.5 L421.5,11.5 L421.9,11.4 L422.2,11.4 L422.6,11.4 L423.0,11.3 L423.3,11.3 L423.7,11.3 L424.1,11.3 L424.4,11.3 L424.8,11.3 L425.1,11.2 L425.5,11.2 L425.9,11.2 L426.2,11.2 L426.6,11.2 L427.0,11.2 L427.3,11.2 L427.7,11.2 L428.1,11.2 L428.4,11.2 L428.8,11.2 L429.1,11.2 L429.5,11.2 L429.9,11.2 L430.2,11.3 L430.6,11.3 L431.0,11.3 L431.3,11.3 L431.7,11.3 L432.0,11.4 L432.4,11.4 L432.8,11.4 L433.1,11.4 L433.4,11.5 L433.7,11.5 L434.1,11.5 L434.4,11.6 L434.7,11.6 L435.0,11.7 L435.4,11.7 L435.7,11.8 L436.0,11.8 L436.3,11.9 L436.7,11.9 L437.0,12.0 L437.3,12.0 L437.6,12.1 L437.9,12.2 L438.3,12.2 L438.6,12.3 L438.9,12.4 L439.2,12.5 L439.5,12.5 L439.8,12.6 L440.0,12.7 L440.3,12.8 L440.6,12.9 L440.9,12.9 L441.2,13.0 L441.5,13.1 L441.7,13.2 L442.0,13.3 L442.3,13.4 L442.6,13.5 L442.9,13.6 L443.1,13.8 L443.4,13.9 L443.7,14.0 L444.0,14.1 L444.2,14.2 L444.4,14.3 L444.7,14.5 L444.9,14.6 L445.2,14.7 L445.4,14.8 L445.7,15.0 L445.9,15.1 L446.1,15.3 L446.4,15.4 L446.6,15.6 L446.9,15.7 L447.1,15.9 L447.3,16.1 L447.6,16.2 L447.8,16.4 L448.0,16.6 L448.2,16.7 L448.4,16.9 L448.6,17.0 L448.8,17.2 L449.0,17.4 L449.2,17.5 L449.4,17.7 L449.6,17.9 L449.8,18.1 L450.0,18.3 L450.3,18.5 L450.5,18.7 L450.7,18.9 L450.9,19.1 L451.1,19.4 L451.3,19.6 L451.4,19.8 L451.6,20.0 L451.7,20.2 L451.9,20.4 L452.1,20.6 L452.2,20.8 L452.4,21.0 L452.6,21.2 L452.7,21.5 L452.9,21.7 L453.0,21.9 L453.2,22.2 L453.4,22.4 L453.5,22.7 L453.7,22.9 L453.8,23.2 L454.0,23.5 L454.2,23.8 L454.3,24.0 L454.5,24.3 L454.7,24.6 L454.8,24.9 L454.9,25.1 L455.0,25.3 L455.1,25.6 L455.3,25.8 L455.4,26.1 L455.5,26.3 L455.6,26.6 L455.7,26.9 L455.9,27.2 L456.0,27.4 L456.1,27.7 L456.2,28.0 L456.3,28.3 L456.5,28.6 L456.6,28.9 L456.7,29.2 L456.8,29.5 L457.0,29.9 L457.1,30.2 L457.2,30.5 L457.3,30.9 L457.4,31.3 L457.6,31.6 L457.7,32.0 L457.8,32.4 L457.9,32.8 L458.0,33.2 L458.1,33.4 L458.2,33.7 L458.3,34.0 L458.4,34.3 L458.4,34.6 L458.5,34.8 L458.6,35.1 L458.7,35.4 L458.8,35.8 L458.8,36.1 L458.9,36.4 L459.0,36.7 L459.1,37.0 L459.2,37.4 L459.3,37.7 L459.3,38.0 L459.4,38.4 L459.5,38.8 L459.6,39.1 L459.7,39.5 L459.7,39.9 L459.8,40.2 L459.9,40.6 L460.0,41.0 L460.1,41.4 L460.1,41.8 L460.2,42.3 L460.3,42.7 L460.4,43.1 L460.5,43.6 L460.5,44.0 L460.6,44.5 L460.7,45.0 L460.8,45.4 L460.9,45.9 L460.9,46.4 L461.0,46.9 L461.1,47.5 L461.2,48.0 L461.3,48.5 L461.3,49.1 L461.4,49.7 L461.5,50.3 L461.6,50.9 L461.7,51.5 L461.7,51.8 L461.8,52.1 L461.8,52.4 L461.8,52.7 L461.9,53.1 L461.9,53.4 L462.0,53.7 L462.0,54.1 L462.0,54.4 L462.1,54.8 L462.1,55.1 L462.2,55.5 L462.2,55.9 L462.2,56.2 L462.3,56.6 L462.3,57.0 L462.4,57.4 L462.4,57.8 L462.4,58.2 L462.5,58.6 L462.5,59.0 L462.6,59.4 L462.6,59.8 L462.6,60.2 L462.7,60.7 L462.7,61.1 L462.8,61.5 L462.8,62.0 L462.8,62.5 L462.9,62.9 L462.9,63.4 L463.0,63.9 L463.0,64.4 L463.0,64.9 L463.1,65.4 L463.1,65.9 L463.2,66.4 L463.2,67.0 L463.2,67.5 L463.3,68.1 L463.3,68.7 L463.4,69.2 L463.4,69.8 L463.4,70.4 L463.5,71.1 L463.5,71.7 L463.6,72.3 L463.6,73.0 L463.6,73.7 L463.7,74.4 L463.7,75.1 L463.8,75.8 L463.8,76.5 L463.9,77.3 L463.9,78.0 L463.9,78.8 L464.0,79.7 L464.0,80.5 L464.1,81.4 L464.1,82.2 L464.1,83.2 L464.2,84.1 L464.2,85.1 L464.3,86.1 L464.3,87.1 L464.3,88.2 L464.4,89.3 L464.4,90.4 L464.5,91.6 L464.5,92.8 L464.5,94.1 L464.6,95.4 L464.6,96.8 L464.7,98.2 L464.7,99.8 L464.7,101.3 L464.8,103.0 L464.8,104.8 L464.9,106.6 L464.9,108.6 L464.9,110.7 L465.0,112.9 L465.0,115.3 L465.1,117.9 L465.1,120.7 L465.1,123.8 L465.2,127.1 L465.2,130.9 L465.3,135.1 L465.3,139.9 L465.3,145.5 L465.4,152.3 L465.4,160.7 L465.5,172.0 L465.5,178.3 L465.7,173.2 L465.7,161.5 L465.7,152.8 L465.8,145.8 L465.8,140.0 L465.9,135.1 L465.9,130.8 L466.0,126.9 L466.0,123.4 L466.0,120.3 L466.1,117.4 L466.1,114.7 L466.2,112.3 L466.2,110.0 L466.2,107.8 L466.3,105.7 L466.3,103.8 L466.4,102.0 L466.4,100.3 L466.4,98.6 L466.5,97.0 L466.5,95.5 L466.6,94.0 L466.6,92.7 L466.6,91.3 L466.7,90.0 L466.7,88.8 L466.8,87.6 L466.8,86.4 L466.8,85.3 L466.9,84.2 L466.9,83.1 L467.0,82.1 L467.0,81.1 L467.0,80.1 L467.1,79.2 L467.1,78.2 L467.2,77.3 L467.2,76.5 L467.2,75.6 L467.3,74.8 L467.3,74.0 L467.4,73.2 L467.4,72.4 L467.4,71.6 L467.5,70.9 L467.5,70.1 L467.6,69.4 L467.6,68.7 L467.6,68.0 L467.7,67.3 L467.7,66.7 L467.8,66.0 L467.8,65.4 L467.8,64.7 L467.9,64.1 L467.9,63.5 L468.0,62.9 L468.0,62.3 L468.0,61.8 L468.1,61.2 L468.1,60.6 L468.2,60.1 L468.2,59.5 L468.3,59.0 L468.3,58.5 L468.3,57.9 L468.4,57.4 L468.4,56.9 L468.5,56.4 L468.5,55.9 L468.5,55.5 L468.6,55.0 L468.6,54.5 L468.7,54.0 L468.7,53.6 L468.7,53.1 L468.8,52.7 L468.8,52.2 L468.9,51.8 L468.9,51.4 L468.9,50.9 L469.0,50.5 L469.0,50.1 L469.1,49.7 L469.1,49.3 L469.1,48.9 L469.2,48.5 L469.2,48.1 L469.3,47.7 L469.3,47.3 L469.3,46.9 L469.4,46.6 L469.4,46.2 L469.5,45.8 L469.5,45.5 L469.5,45.1 L469.6,44.8 L469.6,44.4 L469.7,44.1 L469.7,43.7 L469.7,43.4 L469.8,43.0 L469.8,42.7 L469.9,42.4 L469.9,42.0 L469.9,41.7 L470.0,41.4 L470.0,41.1 L470.1,40.8 L470.1,40.4 L470.1,40.1 L470.2,39.5 L470.3,38.9 L470.4,38.3 L470.5,37.8 L470.6,37.2 L470.6,36.6 L470.7,36.1 L470.8,35.5 L470.9,35.0 L471.0,34.5 L471.0,34.0 L471.1,33.5 L471.2,33.0 L471.3,32.5 L471.4,32.0 L471.4,31.5 L471.5,31.1 L471.6,30.6 L471.7,30.2 L471.8,29.7 L471.8,29.3 L471.9,28.8 L472.0,28.4 L472.1,28.0 L472.2,27.6 L472.2,27.2 L472.3,26.8 L472.4,26.4 L472.5,26.0 L472.6,25.6 L472.6,25.3 L472.7,24.9 L472.8,24.5 L472.9,24.2 L473.0,23.8 L473.1,23.5 L473.1,23.1 L473.2,22.8 L473.3,22.5 L473.4,22.1 L473.5,21.8 L473.5,21.5 L473.6,21.2 L473.7,20.9 L473.8,20.6 L473.9,20.3 L473.9,20.0 L474.0,19.7 L474.1,19.4 L474.2,19.1 L474.3,18.8 L474.3,18.6 L474.5,18.2 L474.6,17.8 L474.7,17.4 L474.8,17.0 L475.0,16.7 L475.1,16.3 L475.2,16.0 L475.3,15.7 L475.4,15.3 L475.6,15.0 L475.7,14.7 L475.8,14.4 L475.9,14.2 L476.0,13.9 L476.2,13.6 L476.3,13.4 L476.4,13.2 L476.6,12.9 L476.7,12.6 L476.9,12.3 L477.0,12.1 L477.2,11.9 L477.4,11.7 L477.6,11.5 L477.9,11.3 L478.1,11.2 L478.5,11.2 L478.7,11.3 L478.9,11.5 L479.1,11.7 L479.3,12.0 L479.5,12.3 L479.6,12.5 L479.7,12.8 L479.8,13.2 L480.0,13.5 L480.1,13.9 L480.2,14.2 L480.2,14.5 L480.3,14.9 L480.4,15.2 L480.5,15.6 L480.6,16.0 L480.6,16.4 L480.7,16.8 L480.8,17.3 L480.9,17.8 L481.0,18.3 L481.0,18.8 L481.1,19.4 L481.2,20.0 L481.2,20.3 L481.3,20.6 L481.3,21.0 L481.4,21.3 L481.4,21.6 L481.4,22.0 L481.5,22.4 L481.5,22.7 L481.6,23.1 L481.6,23.5 L481.6,23.9 L481.7,24.3 L481.7,24.7 L481.8,25.1 L481.8,25.6 L481.9,26.0 L481.9,26.5 L481.9,26.9 L482.0,27.4 L482.0,27.9 L482.1,28.4 L482.1,28.9 L482.1,29.4 L482.2,30.0 L482.2,30.5 L482.3,31.1 L482.3,31.7 L482.3,32.3 L482.4,32.9 L482.4,33.5 L482.5,34.1 L482.5,34.8 L482.5,35.5 L482.6,36.1 L482.6,36.8 L482.7,37.6 L482.7,38.3 L482.7,39.1 L482.8,39.9 L482.8,40.7 L482.9,41.5 L482.9,42.3 L482.9,43.2 L483.0,44.1 L483.0,45.0 L483.1,46.0 L483.1,47.0 L483.1,48.0 L483.2,49.0 L483.2,50.1 L483.3,51.2 L483.3,52.4 L483.3,53.6 L483.4,54.8 L483.4,56.1 L483.5,57.4 L483.5,58.8 L483.5,60.3 L483.6,61.8 L483.6,63.4 L483.7,65.0 L483.7,66.8 L483.7,68.6 L483.8,70.5 L483.8,72.6 L483.9,74.7 L483.9,77.0 L483.9,79.5 L484.0,82.2 L484.0,85.0 L484.1,88.2 L484.1,91.6 L484.2,95.4 L484.2,99.7 L484.2,104.5 L484.3,110.2 L484.3,116.9 L484.4,125.3 L484.4,136.4 L484.4,152.8 L484.5,185.2 L484.5,186.5 L484.6,159.0 L484.6,140.4 L484.6,128.4 L484.7,119.6 L484.7,112.7 L484.8,106.9 L484.8,102.0 L484.8,97.8 L484.9,94.0 L484.9,90.6 L485.0,87.6 L485.0,84.8 L485.0,82.2 L485.1,79.9 L485.1,77.7 L485.2,75.6 L485.2,73.7 L485.2,71.9 L485.3,70.2 L485.3,68.5 L485.4,67.0 L485.4,65.5 L485.4,64.2 L485.5,62.8 L485.5,61.6 L485.6,60.3 L485.6,59.2 L485.6,58.0 L485.7,57.0 L485.7,55.9 L485.8,54.9 L485.8,54.0 L485.8,53.0 L485.9,52.1 L485.9,51.3 L486.0,50.4 L486.0,49.6 L486.0,48.8 L486.1,48.0 L486.1,47.3 L486.2,46.6 L486.2,45.9 L486.3,45.2 L486.3,44.5 L486.3,43.9 L486.4,43.2 L486.4,42.6 L486.5,42.0 L486.5,41.4 L486.5,40.9 L486.6,40.3 L486.6,39.8 L486.7,39.2 L486.7,38.7 L486.7,38.2 L486.8,37.7 L486.8,37.2 L486.9,36.7 L486.9,36.3 L486.9,35.8 L487.0,35.4 L487.0,34.9 L487.1,34.5 L487.1,34.1 L487.1,33.7 L487.2,33.3 L487.2,32.9 L487.3,32.5 L487.3,32.1 L487.3,31.7 L487.4,31.4 L487.4,31.0 L487.5,30.7 L487.5,30.3 L487.5,30.0 L487.6,29.6 L487.6,29.3 L487.7,29.0 L487.7,28.7 L487.7,28.4 L487.8,27.7 L487.9,27.2 L488.0,26.6 L488.1,26.0 L488.1,25.5 L488.2,25.0 L488.3,24.5 L488.4,24.0 L488.5,23.5 L488.6,23.1 L488.6,22.6 L488.7,22.2 L488.8,21.8 L488.9,21.3 L489.0,20.9 L489.0,20.6 L489.1,20.2 L489.2,19.8 L489.3,19.4 L489.4,19.1 L489.4,18.8 L489.5,18.4 L489.6,18.1 L489.7,17.8 L489.8,17.5 L489.8,17.2 L489.9,16.9 L490.0,16.6 L490.1,16.3 L490.2,16.1 L490.3,15.7 L490.4,15.3 L490.5,14.9 L490.6,14.6 L490.8,14.2 L490.9,13.9 L491.0,13.6 L491.1,13.3 L491.3,13.0 L491.4,12.8 L491.5,12.5 L491.7,12.2 L491.8,12.0 L492.0,11.7 L492.1,11.5 L492.3,11.3 L492.6,11.2 L492.9,11.3 L493.1,11.4 L493.3,11.7 L493.4,12.0 L493.5,12.3 L493.6,12.6 L493.7,13.0 L493.8,13.4 L493.8,13.8 L493.9,14.3 L494.0,14.8 L494.1,15.5 L494.1,15.8 L494.2,16.2 L494.2,16.6 L494.2,17.0 L494.3,17.5 L494.3,17.9 L494.4,18.4 L494.4,18.9 L494.4,19.5 L494.5,20.1 L494.5,20.7 L494.6,21.4 L494.6,22.1 L494.6,22.8 L494.7,23.6 L494.7,24.4 L494.8,25.3 L494.8,26.2 L494.8,27.2 L494.9,28.2 L494.9,29.3 L495.0,30.4 L495.0,31.6 L495.0,32.9 L495.1,34.3 L495.1,35.7 L495.2,37.2 L495.2,38.9 L495.2,40.6 L495.3,42.5 L495.3,44.4 L495.4,46.6 L495.4,48.8 L495.5,51.3 L495.5,53.9 L495.5,56.8 L495.6,60.0 L495.6,63.4 L495.7,67.3 L495.7,71.6 L495.7,76.6 L495.8,82.4 L495.8,89.2 L495.9,97.8 L495.9,109.1 L495.9,120.3 L496.1,112.5 L496.1,100.9 L496.2,92.4 L496.2,85.7 L496.3,80.2 L496.3,75.5 L496.3,71.4 L496.4,67.9 L496.4,64.7 L496.5,61.9 L496.5,59.3 L496.5,57.0 L496.6,54.8 L496.6,52.9 L496.7,51.0 L496.7,49.3 L496.7,47.8 L496.8,46.3 L496.8,44.9 L496.9,43.6 L496.9,42.4 L496.9,41.2 L497.0,40.1 L497.0,39.1 L497.1,38.1 L497.1,37.2 L497.1,36.3 L497.2,35.4 L497.2,34.6 L497.3,33.9 L497.3,33.1 L497.3,32.4 L497.4,31.8 L497.4,31.1 L497.5,30.5 L497.5,29.9 L497.6,29.4 L497.6,28.8 L497.6,28.3 L497.7,27.8 L497.7,27.3 L497.8,26.9 L497.8,26.4 L497.8,26.0 L497.9,25.6 L497.9,25.2 L498.0,24.8 L498.0,24.4 L498.0,24.0 L498.1,23.7 L498.1,23.3 L498.2,23.0 L498.2,22.7 L498.3,22.1 L498.4,21.5 L498.4,21.0 L498.5,20.5 L498.6,20.0 L498.7,19.5 L498.8,19.1 L498.8,18.7 L498.9,18.3 L499.0,17.9 L499.1,17.6 L499.2,17.3 L499.2,16.9 L499.3,16.7 L499.4,16.4 L499.5,16.1 L499.6,15.7 L499.7,15.4 L499.9,15.0 L500.0,14.7 L500.1,14.4 L500.2,14.1 L500.3,13.9 L500.5,13.6 L500.6,13.3 L500.8,13.1 L500.9,12.8 L501.1,12.6 L501.3,12.4 L501.5,12.2 L501.7,12.0 L501.9,11.8 L502.1,11.6 L502.3,11.5 L502.6,11.4 L502.8,11.3 L503.2,11.2 L503.5,11.2 L503.8,11.2 L504.1,11.3 L504.4,11.5 L504.7,11.6 L504.9,11.8 L505.1,11.9 L505.3,12.1 L505.5,12.3 L505.7,12.5 L505.8,12.7 L506.0,12.9 L506.1,13.2 L506.3,13.5 L506.5,13.7 L506.6,14.0 L506.8,14.3 L506.9,14.5 L507.0,14.8 L507.1,15.1 L507.2,15.4 L507.4,15.7 L507.5,16.1 L507.6,16.4 L507.7,16.8 L507.8,17.2 L507.9,17.5 L508.0,17.7 L508.1,18.0 L508.2,18.3 L508.2,18.7 L508.3,19.0 L508.4,19.3 L508.5,19.7 L508.6,20.0 L508.6,20.4 L508.7,20.8 L508.8,21.2 L508.9,21.6 L509.0,22.1 L509.1,22.5 L509.1,23.0 L509.2,23.5 L509.3,24.0 L509.4,24.6 L509.5,25.1 L509.5,25.7 L509.6,26.3 L509.7,26.7 L509.7,27.0 L509.7,27.3 L509.8,27.7 L509.8,28.0 L509.9,28.4 L509.9,28.7 L509.9,29.1 L510.0,29.5 L510.0,29.9 L510.1,30.3 L510.1,30.7 L510.1,31.1 L510.2,31.5 L510.2,32.0 L510.3,32.4 L510.3,32.9 L510.3,33.4 L510.4,33.9 L510.4,34.4 L510.5,34.9 L510.5,35.4 L510.5,36.0 L510.6,36.5 L510.6,37.1 L510.7,37.7 L510.7,38.3 L510.7,39.0 L510.8,39.6 L510.8,40.3 L510.9,41.0 L510.9,41.7 L510.9,42.5 L511.0,43.3 L511.0,44.1 L511.1,44.9 L511.1,45.8 L511.2,46.7 L511.2,47.6 L511.2,48.6 L511.3,49.6 L511.3,50.7 L511.4,51.8 L511.4,52.9 L511.4,54.2 L511.5,55.4 L511.5,56.8 L511.6,58.2 L511.6,59.7 L511.6,61.3 L511.7,63.0 L511.7,64.7 L511.8,66.6 L511.8,68.7 L511.8,70.9 L511.9,73.2 L511.9,75.8 L512.0,78.6 L512.0,81.7 L512.0,85.2 L512.1,89.1 L512.1,93.5 L512.2,98.7 L512.2,104.8 L512.2,112.3 L512.3,122.1 L512.3,136.1 L512.4,137.4 L512.5,133.8 L512.5,120.1 L512.6,110.3 L512.6,102.7 L512.6,96.4 L512.7,91.0 L512.7,86.4 L512.8,82.2 L512.8,78.5 L512.8,75.2 L512.9,72.1 L512.9,69.3 L513.0,66.7 L513.0,64.2 L513.0,61.9 L513.1,59.8 L513.1,57.8 L513.2,55.8 L513.2,54.0 L513.2,52.3 L513.3,50.6 L513.3,49.1 L513.4,47.5 L513.4,46.1 L513.5,44.7 L513.5,43.4 L513.5,42.1 L513.6,40.9 L513.6,39.7 L513.7,38.6 L513.7,37.5 L513.7,36.4 L513.8,35.4 L513.8,34.4 L513.9,33.4 L513.9,32.5 L513.9,31.6 L514.0,30.8 L514.0,30.0 L514.1,29.2 L514.1,28.4 L514.1,27.6 L514.2,26.9 L514.2,26.2 L514.3,25.5 L514.3,24.9 L514.3,24.2 L514.4,23.6 L514.4,23.0 L514.5,22.5 L514.5,21.9 L514.5,21.4 L514.6,20.9 L514.6,20.4 L514.7,19.9 L514.7,19.4 L514.7,19.0 L514.8,18.6 L514.8,18.1 L514.9,17.7 L514.9,17.4 L514.9,17.0 L515.0,16.6 L515.0,16.3 L515.1,16.0 L515.1,15.7 L515.2,15.1 L515.3,14.6 L515.3,14.1 L515.4,13.6 L515.5,13.2 L515.6,12.9 L515.7,12.6 L515.8,12.3 L515.9,12.0 L516.0,11.7 L516.2,11.4 L516.4,11.2 L516.7,11.3 L516.9,11.5 L517.1,11.7 L517.2,12.0 L517.4,12.2 L517.5,12.5 L517.6,12.8 L517.7,13.2 L517.9,13.5 L518.0,13.9 L518.1,14.3 L518.2,14.6 L518.3,14.9 L518.3,15.2 L518.4,15.5 L518.5,15.8 L518.6,16.1 L518.7,16.4 L518.7,16.7 L518.8,17.1 L518.9,17.4 L519.0,17.8 L519.1,18.1 L519.1,18.5 L519.2,18.8 L519.3,19.2 L519.4,19.6 L519.5,20.0 L519.5,20.4 L519.6,20.8 L519.7,21.2 L519.8,21.6 L519.9,22.0 L519.9,22.4 L520.0,22.9 L520.1,23.3 L520.2,23.7 L520.3,24.2 L520.4,24.6 L520.4,25.1 L520.5,25.6 L520.6,26.0 L520.7,26.5 L520.8,27.0 L520.8,27.5 L520.9,28.0 L521.0,28.5 L521.1,29.0 L521.2,29.5 L521.2,30.0 L521.3,30.6 L521.4,31.1 L521.5,31.6 L521.6,32.2 L521.6,32.7 L521.7,33.3 L521.8,33.9 L521.9,34.4 L522.0,35.0 L522.0,35.6 L522.1,36.2 L522.2,36.8 L522.3,37.5 L522.3,37.8 L522.4,38.1 L522.4,38.4 L522.5,38.7 L522.5,39.0 L522.5,39.4 L522.6,39.7 L522.6,40.0 L522.7,40.4 L522.7,40.7 L522.7,41.0 L522.8,41.4 L522.8,41.7 L522.9,42.1 L522.9,42.4 L522.9,42.8 L523.0,43.1 L523.0,43.5 L523.1,43.8 L523.1,44.2 L523.1,44.6 L523.2,44.9 L523.2,45.3 L523.3,45.7 L523.3,46.1 L523.3,46.4 L523.4,46.8 L523.4,47.2 L523.5,47.6 L523.5,48.0 L523.5,48.4 L523.6,48.8 L523.6,49.2 L523.7,49.6 L523.7,50.1 L523.7,50.5 L523.8,50.9 L523.8,51.3 L523.9,51.8 L523.9,52.2 L523.9,52.6 L524.0,53.1 L524.0,53.5 L524.1,54.0 L524.1,54.5 L524.1,54.9 L524.2,55.4 L524.2,55.9 L524.3,56.4 L524.3,56.8 L524.3,57.3 L524.4,57.8 L524.4,58.3 L524.5,58.9 L524.5,59.4 L524.5,59.9 L524.6,60.4 L524.6,61.0 L524.7,61.5 L524.7,62.1 L524.8,62.6 L524.8,63.2 L524.8,63.8 L524.9,64.4 L524.9,65.0 L525.0,65.6 L525.0,66.2 L525.0,66.8 L525.1,67.4 L525.1,68.1 L525.2,68.7 L525.2,69.4 L525.2,70.1 L525.3,70.8 L525.3,71.5 L525.4,72.2 L525.4,72.9 L525.4,73.7 L525.5,74.4 L525.5,75.2 L525.6,76.0 L525.6,76.8 L525.6,77.6 L525.7,78.4 L525.7,79.3 L525.8,80.2 L525.8,81.1 L525.8,82.0 L525.9,82.9 L525.9,83.9 L526.0,84.9 L526.0,85.9 L526.0,86.9 L526.1,88.0 L526.1,89.1 L526.2,90.3 L526.2,91.4 L526.2,92.7 L526.3,93.9 L526.3,95.2 L526.4,96.6 L526.4,98.0 L526.4,99.4 L526.5,101.0 L526.5,102.5 L526.6,104.2 L526.6,105.9 L526.6,107.8 L526.7,109.7 L526.7,111.7 L526.8,113.9 L526.8,116.2 L526.9,118.7 L526.9,121.3 L526.9,124.2 L527.0,127.3 L527.0,130.7 L527.1,134.5 L527.1,138.7 L527.1,143.6 L527.2,143.9 L527.6,143.9 L527.7,140.5 L527.7,136.2 L527.8,132.4 L527.8,129.0 L527.9,125.9 L527.9,123.1 L527.9,120.5 L528.0,118.1 L528.0,115.8 L528.1,113.7 L528.1,111.7 L528.1,109.8 L528.2,108.1 L528.2,106.4 L528.3,104.8 L528.3,103.3 L528.3,101.8 L528.4,100.5 L528.4,99.1 L528.5,97.8 L528.5,96.6 L528.5,95.4 L528.6,94.3 L528.6,93.2 L528.7,92.1 L528.7,91.1 L528.7,90.1 L528.8,89.1 L528.8,88.2 L528.9,87.3 L528.9,86.4 L528.9,85.5 L529.0,84.7 L529.0,83.9 L529.1,83.1 L529.1,82.3 L529.2,81.5 L529.2,80.8 L529.2,80.1 L529.3,79.4 L529.3,78.7 L529.4,78.0 L529.4,77.4 L529.4,76.7 L529.5,76.1 L529.5,75.5 L529.6,74.9 L529.6,74.3 L529.6,73.7 L529.7,73.1 L529.7,72.5 L529.8,72.0 L529.8,71.4 L529.8,70.9 L529.9,70.4 L529.9,69.9 L530.0,69.4 L530.0,68.9 L530.0,68.4 L530.1,67.9 L530.1,67.4 L530.2,67.0 L530.2,66.5 L530.2,66.0 L530.3,65.6 L530.3,65.2 L530.4,64.7 L530.4,64.3 L530.4,63.9 L530.5,63.5 L530.5,63.0 L530.6,62.6 L530.6,62.2 L530.6,61.9 L530.7,61.5 L530.7,61.1 L530.8,60.7 L530.8,60.3 L530.8,60.0 L530.9,59.6 L530.9,59.2 L531.0,58.9 L531.0,58.5 L531.0,58.2 L531.1,57.8 L531.1,57.5 L531.2,57.2 L531.2,56.8 L531.2,56.5 L531.3,56.2 L531.3,55.9 L531.4,55.5 L531.4,55.2 L531.5,54.9 L531.5,54.3 L531.6,53.7 L531.7,53.1 L531.8,52.5 L531.9,52.0 L531.9,51.4 L532.0,50.9 L532.1,50.3 L532.2,49.8 L532.3,49.3 L532.3,48.8 L532.4,48.3 L532.5,47.8 L532.6,47.3 L532.7,46.8 L532.7,46.3 L532.8,45.9 L532.9,45.4 L533.0,44.9 L533.1,44.5 L533.1,44.1 L533.2,43.6 L533.3,43.2 L533.4,42.8 L533.5,42.3 L533.5,41.9 L533.6,41.5 L533.7,41.1 L533.8,40.7 L533.9,40.3 L534.0,39.9 L534.0,39.5 L534.1,39.1 L534.2,38.7 L534.3,38.4 L534.4,38.0 L534.4,37.6 L534.5,37.2 L534.6,36.9 L534.7,36.5 L534.8,36.1 L534.8,35.8 L534.9,35.4 L535.0,35.1 L535.1,34.7 L535.2,34.3 L535.2,34.0 L535.3,33.6 L535.4,33.3 L535.5,32.9 L535.6,32.6 L535.6,32.2 L535.7,31.9 L535.8,31.5 L535.9,31.2 L536.0,30.9 L536.1,30.5 L536.1,30.2 L536.2,29.8 L536.3,29.5 L536.4,29.1 L536.5,28.8 L536.5,28.4 L536.6,28.1 L536.7,27.8 L536.8,27.4 L536.9,27.1 L536.9,26.7 L537.0,26.4 L537.1,26.0 L537.2,25.7 L537.3,25.3 L537.3,24.9 L537.4,24.6 L537.5,24.2 L537.6,23.9 L537.7,23.5 L537.7,23.1 L537.8,22.8 L537.9,22.4 L538.0,22.0 L538.1,21.6 L538.2,21.2 L538.2,20.9 L538.3,20.5 L538.4,20.1 L538.5,19.7 L538.6,19.3 L538.6,18.9 L538.7,18.5 L538.8,18.1 L538.9,17.7 L539.0,17.3 L539.0,16.9 L539.1,16.4 L539.2,16.0 L539.3,15.6 L539.4,15.2 L539.4,14.8 L539.5,14.4 L539.6,14.0 L539.7,13.6 L539.8,13.3 L539.8,12.9 L539.9,12.6 L540.0,12.3 L540.1,12.0 L540.2,11.6 L540.3,11.4 L540.6,11.2 L540.7,11.6 L540.8,11.9 L540.9,12.3 L541.0,12.9 L541.0,13.2 L541.1,13.5 L541.1,13.9 L541.1,14.4 L541.2,14.8 L541.2,15.4 L541.3,15.9 L541.3,16.5 L541.3,17.1 L541.4,17.8 L541.4,18.5 L541.5,19.2 L541.5,20.0 L541.5,20.0" stroke="#c00000" stroke-width="2" stroke-dasharray="5 2.1"/>
<path d="M299.4,152.0 L299.4,150.1 L299.5,148.3 L299.5,146.5 L299.6,144.9 L299.6,143.3 L299.6,141.8 L299.7,140.4 L299.7,139.0 L299.8,137.6 L299.8,136.4 L299.8,135.1 L299.9,133.9 L299.9,132.8 L300.0,131.7 L300.0,130.6 L300.0,129.6 L300.1,128.5 L300.1,127.6 L300.2,126.6 L300.2,125.7 L300.2,124.8 L300.3,123.9 L300.3,123.0 L300.4,122.2 L300.4,121.4 L300.4,120.6 L300.5,119.8 L300.5,119.0 L300.6,118.3 L300.6,117.5 L300.6,116.8 L300.7,116.1 L300.7,115.4 L300.8,114.8 L300.8,114.1 L300.8,113.5 L300.9,112.8 L300.9,112.2 L301.0,111.6 L301.0,111.0 L301.0,110.4 L301.1,109.8 L301.1,109.2 L301.2,108.7 L301.2,108.1 L301.3,107.6 L301.3,107.0 L301.3,106.5 L301.4,106.0 L301.4,105.5 L301.5,105.0 L301.5,104.5 L301.5,104.0 L301.6,103.5 L301.6,103.0 L301.7,102.6 L301.7,102.1 L301.7,101.6 L301.8,101.2 L301.8,100.7 L301.9,100.3 L301.9,99.9 L301.9,99.4 L302.0,99.0 L302.0,98.6 L302.1,98.2 L302.1,97.8 L302.1,97.4 L302.2,97.0 L302.2,96.6 L302.3,96.2 L302.3,95.8 L302.3,95.4 L302.4,95.0 L302.4,94.7 L302.5,94.3 L302.5,93.9 L302.5,93.6 L302.6,93.2 L302.6,92.9 L302.7,92.5 L302.7,92.2 L302.7,91.8 L302.8,91.5 L302.8,91.2 L302.9,90.8 L302.9,90.5 L302.9,90.2 L303.0,89.8 L303.0,89.5 L303.1,89.2 L303.1,88.9 L303.1,88.6 L303.2,88.0 L303.3,87.4 L303.4,86.8 L303.5,86.2 L303.6,85.6 L303.6,85.1 L303.7,84.5 L303.8,84.0 L303.9,83.4 L304.0,82.9 L304.0,82.4 L304.1,81.9 L304.2,81.3 L304.3,80.8 L304.4,80.4 L304.4,79.9 L304.5,79.4 L304.6,78.9 L304.7,78.5 L304.8,78.0 L304.8,77.6 L304.9,77.1 L305.0,76.7 L305.1,76.2 L305.2,75.8 L305.2,75.4 L305.3,75.0 L305.4,74.5 L305.5,74.1 L305.6,73.7 L305.6,73.3 L305.7,72.9 L305.8,72.5 L305.9,72.2 L306.0,71.8 L306.1,71.4 L306.1,71.0 L306.2,70.7 L306.3,70.3 L306.4,69.9 L306.5,69.6 L306.5,69.2 L306.6,68.9 L306.7,68.5 L306.8,68.2 L306.9,67.8 L306.9,67.5 L307.0,67.2 L307.1,66.8 L307.2,66.5 L307.3,66.2 L307.3,65.9 L307.4,65.5 L307.5,65.2 L307.6,64.9 L307.7,64.6 L307.7,64.3 L307.8,64.0 L307.9,63.7 L308.0,63.4 L308.1,63.1 L308.2,62.8 L308.2,62.5 L308.3,62.2 L308.4,61.9 L308.5,61.7 L308.6,61.4 L308.6,61.1 L308.7,60.8 L308.8,60.6 L308.9,60.3 L309.0,60.0 L309.1,59.6 L309.2,59.2 L309.3,58.8 L309.4,58.4 L309.6,58.0 L309.7,57.7 L309.8,57.3 L309.9,56.9 L310.0,56.6 L310.2,56.2 L310.3,55.8 L310.4,55.5 L310.5,55.1 L310.7,54.8 L310.8,54.4 L310.9,54.1 L311.0,53.8 L311.1,53.4 L311.3,53.1 L311.4,52.8 L311.5,52.4 L311.6,52.1 L311.7,51.8 L311.9,51.5 L312.0,51.2 L312.1,50.9 L312.2,50.5 L312.3,50.2 L312.5,49.9 L312.6,49.6 L312.7,49.3 L312.8,49.0 L313.0,48.8 L313.1,48.5 L313.2,48.2 L313.3,47.9 L313.4,47.6 L313.6,47.3 L313.7,47.1 L313.8,46.8 L313.9,46.5 L314.0,46.2 L314.2,46.0 L314.3,45.7 L314.4,45.4 L314.5,45.2 L314.6,44.9 L314.8,44.7 L314.9,44.4 L315.0,44.1 L315.1,43.9 L315.3,43.6 L315.4,43.4 L315.5,43.1 L315.6,42.9 L315.7,42.7 L315.9,42.4 L316.0,42.2 L316.1,41.9 L316.2,41.7 L316.3,41.5 L316.5,41.2 L316.6,41.0 L316.7,40.8 L316.9,40.5 L317.0,40.2 L317.2,39.9 L317.4,39.6 L317.5,39.3 L317.7,39.0 L317.8,38.7 L318.0,38.4 L318.2,38.1 L318.3,37.8 L318.5,37.6 L318.6,37.3 L318.8,37.0 L319.0,36.7 L319.1,36.5 L319.3,36.2 L319.5,35.9 L319.6,35.7 L319.8,35.4 L319.9,35.2 L320.1,34.9 L320.3,34.7 L320.4,34.4 L320.6,34.2 L320.7,33.9 L320.9,33.7 L321.1,33.4 L321.2,33.2 L321.4,32.9 L321.6,32.7 L321.7,32.5 L321.9,32.2 L322.0,32.0 L322.2,31.8 L322.4,31.5 L322.5,31.3 L322.7,31.1 L322.8,30.9 L323.0,30.6 L323.2,30.4 L323.3,30.2 L323.5,30.0 L323.6,29.8 L323.8,29.5 L324.0,29.3 L324.1,29.1 L324.3,28.9 L324.5,28.7 L324.6,28.5 L324.8,28.3 L324.9,28.1 L325.1,27.9 L325.3,27.7 L325.4,27.5 L325.6,27.3 L325.7,27.1 L325.9,26.9 L326.1,26.7 L326.2,26.5 L326.4,26.3 L326.6,26.1 L326.8,25.9 L327.0,25.6 L327.2,25.4 L327.4,25.2 L327.6,25.0 L327.8,24.7 L328.0,24.5 L328.2,24.3 L328.4,24.1 L328.6,23.9 L328.8,23.7 L329.0,23.4 L329.2,23.2 L329.4,23.0 L329.6,22.8 L329.8,22.6 L330.0,22.4 L330.2,22.2 L330.4,22.0 L330.6,21.8 L330.8,21.6 L331.0,21.4 L331.2,21.3 L331.4,21.1 L331.6,20.9 L331.8,20.7 L332.0,20.5 L332.2,20.3 L332.4,20.2 L332.6,20.0 L332.9,19.8 L333.1,19.6 L333.3,19.5 L333.5,19.3 L333.7,19.1 L333.9,19.0 L334.1,18.8 L334.3,18.7 L334.5,18.5 L334.7,18.3 L334.9,18.2 L335.1,18.0 L335.3,17.9 L335.5,17.7 L335.7,17.6 L335.9,17.4 L336.2,17.2 L336.4,17.1 L336.6,16.9 L336.9,16.7 L337.1,16.6 L337.4,16.4 L337.6,16.2 L337.9,16.1 L338.1,15.9 L338.3,15.8 L338.6,15.6 L338.8,15.5 L339.1,15.3 L339.3,15.2 L339.5,15.1 L339.8,14.9 L340.0,14.8 L340.3,14.7 L340.5,14.5 L340.8,14.4 L341.0,14.3 L341.2,14.2 L341.5,14.0 L341.7,13.9 L342.0,13.8 L342.2,13.7 L342.5,13.6 L342.7,13.5 L343.0,13.3 L343.3,13.2 L343.6,13.1 L343.9,13.0 L344.2,12.9 L344.4,12.8 L344.7,12.7 L345.0,12.6 L345.3,12.5 L345.6,12.4 L345.8,12.3 L346.1,12.2 L346.4,12.1 L346.7,12.1 L347.0,12.0 L347.3,11.9 L347.6,11.9 L347.9,11.8 L348.2,11.7 L348.5,11.6 L348.9,11.6 L349.2,11.5 L349.5,11.5 L349.8,11.4 L350.2,11.4 L350.5,11.4 L350.8,11.3 L351.1,11.3 L351.5,11.3 L351.9,11.2 L352.2,11.2 L352.6,11.2 L352.9,11.2 L353.3,11.2 L353.7,11.2 L354.0,11.2 L354.4,11.2 L354.8,11.2 L355.1,11.3 L355.5,11.3 L355.8,11.3 L356.1,11.4 L356.5,11.4 L356.8,11.5 L357.1,11.5 L357.4,11.5 L357.8,11.6 L358.1,11.7 L358.4,11.7 L358.7,11.8 L359.0,11.9 L359.4,11.9 L359.6,12.0 L359.9,12.1 L360.2,12.2 L360.5,12.2 L360.8,12.3 L361.1,12.4 L361.3,12.5 L361.6,12.6 L361.9,12.7 L362.2,12.8 L362.5,12.9 L362.8,13.0 L363.0,13.1 L363.3,13.2 L363.6,13.3 L363.9,13.5 L364.2,13.6 L364.5,13.7 L364.7,13.8 L364.9,13.9 L365.2,14.0 L365.4,14.2 L365.7,14.3 L365.9,14.4 L366.1,14.5 L366.4,14.7 L366.6,14.8 L366.9,14.9 L367.1,15.1 L367.4,15.2 L367.6,15.3 L367.8,15.5 L368.1,15.6 L368.3,15.8 L368.6,16.0 L368.8,16.1 L369.1,16.3 L369.3,16.5 L369.5,16.6 L369.8,16.8 L370.0,17.0 L370.2,17.1 L370.4,17.3 L370.6,17.4 L370.8,17.6 L371.0,17.7 L371.2,17.9 L371.4,18.1 L371.6,18.3 L371.8,18.4 L372.0,18.6 L372.2,18.8 L372.4,19.0 L372.6,19.2 L372.8,19.4 L373.0,19.6 L373.2,19.8 L373.4,20.1 L373.6,20.3 L373.8,20.5 L374.0,20.7 L374.1,20.9 L374.3,21.1 L374.5,21.3 L374.6,21.5 L374.8,21.7 L374.9,21.9 L375.1,22.2 L375.3,22.4 L375.4,22.6 L375.6,22.9 L375.8,23.1 L375.9,23.4 L376.1,23.7 L376.2,24.0 L376.4,24.3 L376.6,24.6 L376.7,24.8 L376.8,25.0 L376.9,25.3 L377.0,25.5 L377.2,25.8 L377.3,26.1 L377.4,26.4 L377.5,26.7 L377.6,27.0 L377.8,27.3 L377.9,27.6 L378.0,27.9 L378.1,28.3 L378.3,28.7 L378.4,29.1 L378.5,29.5 L378.6,29.7 L378.7,30.0 L378.7,30.3 L378.8,30.6 L378.9,30.9 L379.0,31.3 L379.1,31.6 L379.1,32.0 L379.2,32.3 L379.3,32.7 L379.4,33.1 L379.5,33.5 L379.5,34.0 L379.6,34.4 L379.7,34.9 L379.8,35.4 L379.9,35.9 L379.9,36.4 L380.0,37.0 L380.1,37.6 L380.2,38.2 L380.2,38.5 L380.3,38.8 L380.3,39.2 L380.4,39.5 L380.4,39.9 L380.4,40.3 L380.5,40.7 L380.5,41.1 L380.6,41.5 L380.6,41.9 L380.6,42.3 L380.7,42.8 L380.7,43.3 L380.8,43.7 L380.8,44.2 L380.8,44.8 L380.9,45.3 L380.9,45.8 L381.0,46.4 L381.0,47.0 L381.0,47.6 L381.1,48.3 L381.1,49.0 L381.2,49.7 L381.2,50.4 L381.2,51.2 L381.3,52.0 L381.3,52.8 L381.4,53.7 L381.4,54.7 L381.4,55.7 L381.5,56.7 L381.5,57.8 L381.6,58.9 L381.6,60.2 L381.6,61.5 L381.7,62.9 L381.7,64.4 L381.8,66.0 L381.8,67.7 L381.8,69.6 L381.9,71.6 L381.9,73.8 L382.0,76.2 L382.0,78.9 L382.0,81.9 L382.1,85.2 L382.1,89.1 L382.2,93.5 L382.2,98.7 L382.2,105.1 L382.3,113.2 L382.3,124.0 L382.5,123.0 L382.6,110.9 L382.6,101.8 L382.7,94.5 L382.7,88.4 L382.7,83.1 L382.8,78.4 L382.8,74.1 L382.9,70.3 L382.9,66.8 L382.9,63.6 L383.0,60.6 L383.0,57.7 L383.1,55.1 L383.1,52.6 L383.1,50.3 L383.2,48.1 L383.2,45.9 L383.3,43.9 L383.3,42.0 L383.3,40.2 L383.4,38.5 L383.4,36.8 L383.5,35.2 L383.5,33.7 L383.5,32.3 L383.6,30.9 L383.6,29.6 L383.7,28.4 L383.7,27.2 L383.7,26.0 L383.8,25.0 L383.8,24.0 L383.9,23.0 L383.9,22.1 L383.9,21.2 L384.0,20.4 L384.0,19.6 L384.1,18.9 L384.1,18.2 L384.1,17.6 L384.2,17.0 L384.2,16.4 L384.3,15.9 L384.3,15.5 L384.3,15.0 L384.4,14.6 L384.4,14.2 L384.5,13.9 L384.5,13.5 L384.6,13.0 L384.7,12.5 L384.8,12.1 L384.8,11.8 L385.0,11.5 L385.1,11.3 L385.5,11.3 L385.7,11.5 L385.8,11.8 L386.0,12.0 L386.1,12.3 L386.2,12.5 L386.4,12.8 L386.5,13.0 L386.6,13.3 L386.7,13.5 L386.8,13.8 L387.0,14.1 L387.1,14.3 L387.2,14.6 L387.3,14.8 L387.5,15.1 L387.6,15.3 L387.7,15.6 L387.8,15.8 L387.9,16.1 L388.1,16.3 L388.2,16.6 L388.3,16.8 L388.5,17.1 L388.6,17.4 L388.8,17.7 L388.9,18.0 L389.1,18.2 L389.3,18.5 L389.4,18.8 L389.6,19.1 L389.8,19.3 L389.9,19.6 L390.1,19.8 L390.2,20.1 L390.4,20.4 L390.6,20.6 L390.7,20.8 L390.9,21.1 L391.0,21.3 L391.2,21.6 L391.4,21.8 L391.5,22.0 L391.7,22.3 L391.9,22.5 L392.0,22.7 L392.2,22.9 L392.3,23.2 L392.5,23.4 L392.7,23.6 L392.8,23.8 L393.0,24.0 L393.1,24.2 L393.3,24.5 L393.5,24.7 L393.6,24.9 L393.8,25.1 L394.0,25.3 L394.1,25.5 L394.3,25.7 L394.4,25.9 L394.6,26.1 L394.8,26.3 L394.9,26.5 L395.1,26.8 L395.2,27.0 L395.4,27.2 L395.6,27.4 L395.7,27.6 L395.9,27.8 L396.1,28.0 L396.2,28.2 L396.4,28.4 L396.5,28.6 L396.7,28.8 L396.9,29.0 L397.0,29.2 L397.2,29.4 L397.3,29.6 L397.5,29.8 L397.7,30.0 L397.8,30.2 L398.0,30.4 L398.1,30.7 L398.3,30.9 L398.5,31.1 L398.6,31.3 L398.8,31.5 L399.0,31.7 L399.1,31.9 L399.3,32.1 L399.4,32.3 L399.6,32.5 L399.8,32.7 L399.9,32.9 L400.1,33.2 L400.2,33.4 L400.4,33.6 L400.6,33.8 L400.7,34.0 L400.9,34.2 L401.1,34.4 L401.2,34.7 L401.4,34.9 L401.5,35.1 L401.7,35.3 L401.9,35.5 L402.0,35.8 L402.2,36.0 L402.3,36.2 L402.5,36.4 L402.7,36.7 L402.8,36.9 L403.0,37.1 L403.2,37.3 L403.3,37.6 L403.5,37.8 L403.6,38.0 L403.8,38.3 L404.0,38.5 L404.1,38.7 L404.3,39.0 L404.4,39.2 L404.6,39.4 L404.8,39.7 L404.9,39.9 L405.1,40.2 L405.3,40.4 L405.4,40.7 L405.6,40.9 L405.7,41.1 L405.9,41.4 L406.1,41.7 L406.2,41.9 L406.4,42.2 L406.5,42.4 L406.7,42.7 L406.9,42.9 L407.0,43.2 L407.2,43.5 L407.4,43.7 L407.5,44.0 L407.7,44.3 L407.8,44.5 L408.0,44.8 L408.2,45.1 L408.3,45.4 L408.5,45.6 L408.6,45.9 L408.8,46.2 L409.0,46.5 L409.1,46.8 L409.3,47.1 L409.4,47.4 L409.6,47.7 L409.8,48.0 L409.9,48.3 L410.1,48.6 L410.2,48.8 L410.3,49.0 L410.5,49.3 L410.6,49.5 L410.7,49.7 L410.8,50.0 L410.9,50.2 L411.1,50.4 L411.2,50.7 L411.3,50.9 L411.4,51.2 L411.5,51.4 L411.7,51.7 L411.8,51.9 L411.9,52.2 L412.0,52.4 L412.2,52.7 L412.3,52.9 L412.4,53.2 L412.5,53.5 L412.6,53.7 L412.8,54.0 L412.9,54.3 L413.0,54.5 L413.1,54.8 L413.2,55.1 L413.4,55.4 L413.5,55.6 L413.6,55.9 L413.7,56.2 L413.8,56.5 L414.0,56.8 L414.1,57.1 L414.2,57.4 L414.3,57.7 L414.5,58.0 L414.6,58.3 L414.7,58.6 L414.8,58.9 L414.9,59.2 L415.1,59.5 L415.2,59.8 L415.3,60.1 L415.4,60.5 L415.5,60.8 L415.7,61.1 L415.8,61.5 L415.9,61.8 L416.0,62.1 L416.1,62.5 L416.3,62.8 L416.4,63.2 L416.5,63.5 L416.6,63.9 L416.8,64.3 L416.9,64.6 L417.0,65.0 L417.1,65.4 L417.2,65.8 L417.4,66.2 L417.5,66.5 L417.6,66.9 L417.7,67.3 L417.8,67.6 L417.9,67.9 L418.0,68.2 L418.0,68.4 L418.1,68.7 L418.2,69.0 L418.3,69.3 L418.4,69.6 L418.4,69.9 L418.5,70.1 L418.6,70.4 L418.7,70.7 L418.8,71.0 L418.9,71.3 L418.9,71.6 L419.0,71.9 L419.1,72.3 L419.2,72.6 L419.3,72.9 L419.3,73.2 L419.4,73.5 L419.5,73.9 L419.6,74.2 L419.7,74.5 L419.7,74.9 L419.8,75.2 L419.9,75.6 L420.0,75.9 L420.1,76.3 L420.1,76.6 L420.2,77.0 L420.3,77.3 L420.4,77.7 L420.5,78.1 L420.5,78.4 L420.6,78.8 L420.7,79.2 L420.8,79.6 L420.9,80.0 L421.0,80.4 L421.0,80.8 L421.1,81.2 L421.2,81.6 L421.3,82.1 L421.4,82.5 L421.4,82.9 L421.5,83.4 L421.6,83.8 L421.7,84.2 L421.8,84.7 L421.8,85.2 L421.9,85.6 L422.0,86.1 L422.1,86.6 L422.2,87.1 L422.2,87.6 L422.3,88.1 L422.4,88.6 L422.5,89.1 L422.6,89.7 L422.6,90.2 L422.7,90.8 L422.8,91.3 L422.9,91.9 L423.0,92.5 L423.0,93.1 L423.1,93.7 L423.2,94.3 L423.3,94.6 L423.3,94.9 L423.3,95.2 L423.4,95.5 L423.4,95.8 L423.5,96.2 L423.5,96.5 L423.5,96.8 L423.6,97.2 L423.6,97.5 L423.7,97.9 L423.7,98.2 L423.7,98.5 L423.8,98.9 L423.8,99.3 L423.9,99.6 L423.9,100.0 L423.9,100.4 L424.0,100.7 L424.0,101.1 L424.1,101.5 L424.1,101.9 L424.1,102.3 L424.2,102.7 L424.2,103.1 L424.3,103.5 L424.3,103.9 L424.3,104.3 L424.4,104.7 L424.4,105.2 L424.5,105.6 L424.5,106.0 L424.5,106.5 L424.6,106.9 L424.6,107.4 L424.7,107.8 L424.7,108.3 L424.7,108.8 L424.8,109.3 L424.8,109.8 L424.9,110.3 L424.9,110.8 L424.9,111.3 L425.0,111.8 L425.0,112.3 L425.1,112.9 L425.1,113.4 L425.1,114.0 L425.2,114.5 L425.2,115.1 L425.3,115.7 L425.3,116.3 L425.4,116.9 L425.4,117.5 L425.4,118.2 L425.5,118.8 L425.5,119.5 L425.6,120.1 L425.6,120.8 L425.6,121.5 L425.7,122.2 L425.7,123.0 L425.8,123.7 L425.8,124.5 L425.8,125.2 L425.9,126.0 L425.9,126.9 L426.0,127.7 L426.0,128.6 L426.0,129.4 L426.1,130.3 L426.1,131.3 L426.2,132.2 L426.2,133.2 L426.2,134.2 L426.3,135.3 L426.3,136.4 L426.4,137.5 L426.4,138.6 L426.4,139.8 L426.5,141.1 L426.5,142.4 L426.6,143.7 L426.6,145.1 L426.6,146.6 L426.7,148.1 L426.7,149.7 L426.8,151.3 L426.8,153.1 L426.8,155.0 L426.9,156.9 L426.9,159.0 L427.0,161.2 L427.0,163.6 L427.0,166.2 L427.1,168.9 L427.1,171.9 L427.2,175.2 L427.2,178.9 L427.2,180.0 L427.6,180.0 L427.9,177.3 L428.0,173.7 L428.0,170.5 L428.1,167.6 L428.1,164.9 L428.1,162.4 L428.2,160.1 L428.2,157.9 L428.3,155.8 L428.3,153.9 L428.3,152.0 L428.4,150.3 L428.4,148.6 L428.5,147.1 L428.5,145.5 L428.5,144.1 L428.6,142.7 L428.6,141.4 L428.7,140.1 L428.7,138.8 L428.7,137.6 L428.8,136.5 L428.8,135.3 L428.9,134.3 L428.9,133.2 L428.9,132.2 L429.0,131.2 L429.0,130.2 L429.1,129.3 L429.1,128.4 L429.1,127.5 L429.2,126.6 L429.2,125.8 L429.3,124.9 L429.3,124.1 L429.3,123.3 L429.4,122.5 L429.4,121.8 L429.5,121.0 L429.5,120.3 L429.5,119.6 L429.6,118.9 L429.6,118.2 L429.7,117.6 L429.7,116.9 L429.7,116.3 L429.8,115.6 L429.8,115.0 L429.9,114.4 L429.9,113.8 L430.0,113.2 L430.0,112.6 L430.0,112.0 L430.1,111.5 L430.1,110.9 L430.2,110.4 L430.2,109.8 L430.2,109.3 L430.3,108.8 L430.3,108.3 L430.4,107.8 L430.4,107.3 L430.4,106.8 L430.5,106.3 L430.5,105.8 L430.6,105.3 L430.6,104.8 L430.6,104.4 L430.7,103.9 L430.7,103.5 L430.8,103.0 L430.8,102.6 L430.8,102.2 L430.9,101.7 L430.9,101.3 L431.0,100.9 L431.0,100.5 L431.0,100.1 L431.1,99.7 L431.1,99.3 L431.2,98.9 L431.2,98.5 L431.2,98.1 L431.3,97.7 L431.3,97.3 L431.4,96.9 L431.4,96.6 L431.4,96.2 L431.5,95.8 L431.5,95.5 L431.6,95.1 L431.6,94.8 L431.6,94.4 L431.7,94.1 L431.7,93.7 L431.8,93.4 L431.8,93.1 L431.8,92.7 L431.9,92.4 L431.9,92.1 L432.0,91.7 L432.0,91.4 L432.0,91.1 L432.1,90.8 L432.1,90.5 L432.2,90.1 L432.3,89.5 L432.3,88.9 L432.4,88.3 L432.5,87.7 L432.6,87.2 L432.7,86.6 L432.7,86.0 L432.8,85.5 L432.9,84.9 L433.0,84.4 L433.1,83.9 L433.1,83.4 L433.2,82.8 L433.3,82.3 L433.4,81.8 L433.5,81.3 L433.5,80.9 L433.6,80.4 L433.7,79.9 L433.8,79.4 L433.9,79.0 L433.9,78.5 L434.0,78.0 L434.1,77.6 L434.2,77.2 L434.3,76.7 L434.4,76.3 L434.4,75.9 L434.5,75.4 L434.6,75.0 L434.7,74.6 L434.8,74.2 L434.8,73.8 L434.9,73.4 L435.0,73.0 L435.1,72.6 L435.2,72.2 L435.2,71.8 L435.3,71.4 L435.4,71.1 L435.5,70.7 L435.6,70.3 L435.6,69.9 L435.7,69.6 L435.8,69.2 L435.9,68.9 L436.0,68.5 L436.0,68.1 L436.1,67.8 L436.2,67.4 L436.3,67.1 L436.4,66.8 L436.4,66.4 L436.5,66.1 L436.6,65.8 L436.7,65.4 L436.8,65.1 L436.9,64.8 L436.9,64.5 L437.0,64.1 L437.1,63.8 L437.2,63.5 L437.3,63.2 L437.3,62.9 L437.4,62.6 L437.5,62.3 L437.6,62.0 L437.7,61.7 L437.7,61.4 L437.8,61.1 L437.9,60.8 L438.0,60.5 L438.1,60.2 L438.1,59.9 L438.2,59.6 L438.3,59.3 L438.4,59.0 L438.5,58.8 L438.5,58.5 L438.6,58.2 L438.7,57.9 L438.8,57.6 L438.9,57.4 L439.0,57.1 L439.0,56.8 L439.2,56.4 L439.3,56.0 L439.4,55.6 L439.5,55.3 L439.6,54.9 L439.8,54.5 L439.9,54.1 L440.0,53.7 L440.1,53.3 L440.2,53.0 L440.4,52.6 L440.5,52.2 L440.6,51.9 L440.7,51.5 L440.8,51.2 L441.0,50.8 L441.1,50.5 L441.2,50.1 L441.3,49.8 L441.5,49.4 L441.6,49.1 L441.7,48.7 L441.8,48.4 L441.9,48.1 L442.1,47.7 L442.2,47.4 L442.3,47.1 L442.4,46.8 L442.5,46.4 L442.7,46.1 L442.8,45.8 L442.9,45.5 L443.0,45.2 L443.1,44.8 L443.3,44.5 L443.4,44.2 L443.5,43.9 L443.6,43.6 L443.8,43.3 L443.9,43.0 L444.0,42.7 L444.1,42.4 L444.2,42.1 L444.4,41.8 L444.5,41.5 L444.6,41.2 L444.7,40.9 L444.8,40.7 L445.0,40.4 L445.1,40.1 L445.2,39.8 L445.3,39.5 L445.4,39.2 L445.6,39.0 L445.7,38.7 L445.8,38.4 L445.9,38.1 L446.1,37.9 L446.2,37.6 L446.3,37.3 L446.4,37.1 L446.5,36.8 L446.7,36.5 L446.8,36.3 L446.9,36.0 L447.0,35.7 L447.1,35.5 L447.3,35.2 L447.4,35.0 L447.5,34.7 L447.6,34.4 L447.7,34.2 L447.9,33.9 L448.0,33.7 L448.1,33.4 L448.2,33.2 L448.4,32.9 L448.5,32.7 L448.6,32.4 L448.7,32.2 L448.8,32.0 L449.0,31.7 L449.1,31.5 L449.2,31.2 L449.3,31.0 L449.4,30.8 L449.6,30.5 L449.7,30.3 L449.8,30.1 L449.9,29.8 L450.0,29.6 L450.2,29.4 L450.3,29.1 L450.5,28.8 L450.6,28.5 L450.8,28.2 L450.9,27.9 L451.1,27.6 L451.3,27.3 L451.4,27.0 L451.6,26.7 L451.7,26.4 L451.9,26.2 L452.1,25.9 L452.2,25.6 L452.4,25.3 L452.6,25.0 L452.7,24.7 L452.9,24.5 L453.0,24.2 L453.2,23.9 L453.4,23.7 L453.5,23.4 L453.7,23.1 L453.8,22.9 L454.0,22.6 L454.2,22.3 L454.3,22.1 L454.5,21.8 L454.7,21.6 L454.8,21.3 L455.0,21.1 L455.1,20.8 L455.3,20.6 L455.5,20.3 L455.6,20.1 L455.8,19.8 L455.9,19.6 L456.1,19.4 L456.3,19.1 L456.4,18.9 L456.6,18.7 L456.7,18.4 L456.9,18.2 L457.1,18.0 L457.2,17.8 L457.4,17.6 L457.6,17.3 L457.7,17.1 L457.9,16.9 L458.0,16.7 L458.2,16.5 L458.4,16.3 L458.5,16.1 L458.7,15.9 L458.8,15.7 L459.0,15.5 L459.2,15.3 L459.4,15.1 L459.6,14.9 L459.8,14.6 L460.0,14.4 L460.2,14.2 L460.4,14.0 L460.6,13.8 L460.8,13.6 L461.0,13.4 L461.2,13.3 L461.4,13.1 L461.6,12.9 L461.8,12.8 L462.0,12.6 L462.3,12.4 L462.5,12.3 L462.8,12.1 L463.0,12.0 L463.2,11.8 L463.5,11.7 L463.7,11.6 L464.0,11.5 L464.3,11.4 L464.6,11.3 L464.9,11.3 L465.2,11.2 L465.6,11.2 L466.0,11.2 L466.3,11.3 L466.6,11.3 L466.9,11.4 L467.2,11.6 L467.4,11.7 L467.6,11.8 L467.9,12.0 L468.1,12.1 L468.3,12.3 L468.5,12.5 L468.7,12.7 L468.9,12.9 L469.1,13.1 L469.3,13.3 L469.4,13.6 L469.6,13.8 L469.7,14.0 L469.9,14.3 L470.1,14.5 L470.2,14.8 L470.4,15.1 L470.6,15.4 L470.7,15.6 L470.8,15.9 L470.9,16.1 L471.0,16.4 L471.2,16.7 L471.3,17.0 L471.4,17.3 L471.5,17.6 L471.6,17.9 L471.8,18.2 L471.9,18.6 L472.0,18.9 L472.1,19.3 L472.2,19.7 L472.4,20.1 L472.4,20.4 L472.5,20.6 L472.6,20.9 L472.7,21.2 L472.8,21.5 L472.9,21.8 L472.9,22.1 L473.0,22.4 L473.1,22.8 L473.2,23.1 L473.3,23.4 L473.3,23.8 L473.4,24.2 L473.5,24.5 L473.6,24.9 L473.7,25.3 L473.7,25.7 L473.8,26.1 L473.9,26.5 L474.0,27.0 L474.1,27.4 L474.1,27.9 L474.2,28.3 L474.3,28.8 L474.4,29.3 L474.5,29.8 L474.5,30.4 L474.6,30.9 L474.7,31.5 L474.8,32.0 L474.9,32.6 L475.0,33.3 L475.0,33.6 L475.0,33.9 L475.1,34.2 L475.1,34.5 L475.2,34.9 L475.2,35.2 L475.2,35.6 L475.3,35.9 L475.3,36.3 L475.4,36.6 L475.4,37.0 L475.4,37.4 L475.5,37.8 L475.5,38.2 L475.6,38.6 L475.6,39.0 L475.6,39.4 L475.7,39.8 L475.7,40.2 L475.8,40.7 L475.8,41.1 L475.8,41.6 L475.9,42.0 L475.9,42.5 L476.0,43.0 L476.0,43.5 L476.0,44.0 L476.1,44.5 L476.1,45.0 L476.2,45.6 L476.2,46.1 L476.2,46.7 L476.3,47.3 L476.3,47.8 L476.4,48.4 L476.4,49.1 L476.4,49.7 L476.5,50.3 L476.5,51.0 L476.6,51.7 L476.6,52.4 L476.6,53.1 L476.7,53.9 L476.7,54.6 L476.8,55.4 L476.8,56.2 L476.8,57.1 L476.9,57.9 L476.9,58.8 L477.0,59.7 L477.0,60.7 L477.0,61.7 L477.1,62.7 L477.1,63.8 L477.2,64.9 L477.2,66.0 L477.3,67.2 L477.3,68.4 L477.3,69.7 L477.4,71.1 L477.4,72.5 L477.5,74.0 L477.5,75.6 L477.5,77.2 L477.6,79.0 L477.6,80.8 L477.7,82.8 L477.7,84.9 L477.7,87.2 L477.8,89.6 L477.8,92.3 L477.9,95.1 L477.9,98.3 L477.9,101.8 L478.0,105.7 L478.0,110.2 L478.1,115.3 L478.1,121.5 L478.1,129.0 L478.2,138.7 L478.2,141.5 L478.4,138.3 L478.5,128.4 L478.5,120.7 L478.5,114.4 L478.6,109.0 L478.6,104.4 L478.7,100.3 L478.7,96.6 L478.7,93.3 L478.8,90.2 L478.8,87.4 L478.9,84.8 L478.9,82.4 L478.9,80.1 L479.0,77.9 L479.0,75.9 L479.1,74.0 L479.1,72.2 L479.1,70.4 L479.2,68.8 L479.2,67.2 L479.3,65.7 L479.3,64.2 L479.3,62.8 L479.4,61.4 L479.4,60.1 L479.5,58.9 L479.5,57.7 L479.6,56.5 L479.6,55.3 L479.6,54.2 L479.7,53.2 L479.7,52.1 L479.8,51.1 L479.8,50.1 L479.8,49.1 L479.9,48.2 L479.9,47.3 L480.0,46.4 L480.0,45.5 L480.0,44.7 L480.1,43.9 L480.1,43.1 L480.2,42.3 L480.2,41.5 L480.2,40.8 L480.3,40.0 L480.3,39.3 L480.4,38.6 L480.4,37.9 L480.4,37.2 L480.5,36.6 L480.5,35.9 L480.6,35.3 L480.6,34.7 L480.6,34.1 L480.7,33.5 L480.7,32.9 L480.8,32.3 L480.8,31.7 L480.8,31.2 L480.9,30.7 L480.9,30.1 L481.0,29.6 L481.0,29.1 L481.0,28.6 L481.1,28.1 L481.1,27.6 L481.2,27.2 L481.2,26.7 L481.2,26.3 L481.3,25.8 L481.3,25.4 L481.4,25.0 L481.4,24.5 L481.4,24.1 L481.5,23.7 L481.5,23.3 L481.6,23.0 L481.6,22.6 L481.6,22.2 L481.7,21.9 L481.7,21.5 L481.8,21.2 L481.8,20.8 L481.9,20.5 L481.9,20.2 L481.9,19.9 L482.0,19.2 L482.1,18.7 L482.2,18.1 L482.3,17.6 L482.3,17.1 L482.4,16.6 L482.5,16.1 L482.6,15.7 L482.7,15.3 L482.7,14.9 L482.8,14.5 L482.9,14.2 L483.0,13.9 L483.1,13.6 L483.1,13.3 L483.3,12.9 L483.4,12.6 L483.5,12.3 L483.6,12.0 L483.8,11.7 L483.9,11.5 L484.2,11.3 L484.4,11.2 L484.7,11.2 L485.0,11.4 L485.2,11.6 L485.3,11.8 L485.5,12.0 L485.6,12.3 L485.8,12.6 L485.9,12.8 L486.0,13.1 L486.1,13.4 L486.3,13.7 L486.4,14.0 L486.5,14.4 L486.6,14.7 L486.7,15.1 L486.9,15.5 L486.9,15.8 L487.0,16.1 L487.1,16.4 L487.2,16.7 L487.3,17.0 L487.3,17.3 L487.4,17.6 L487.5,17.9 L487.6,18.3 L487.7,18.6 L487.7,19.0 L487.8,19.3 L487.9,19.7 L488.0,20.1 L488.1,20.5 L488.1,20.9 L488.2,21.3 L488.3,21.7 L488.4,22.1 L488.5,22.6 L488.6,23.0 L488.6,23.5 L488.7,23.9 L488.8,24.4 L488.9,24.9 L489.0,25.4 L489.0,25.9 L489.1,26.5 L489.2,27.0 L489.3,27.6 L489.4,28.1 L489.4,28.7 L489.5,29.4 L489.6,29.7 L489.6,30.0 L489.6,30.3 L489.7,30.6 L489.7,31.0 L489.8,31.3 L489.8,31.7 L489.8,32.0 L489.9,32.4 L489.9,32.7 L490.0,33.1 L490.0,33.5 L490.0,33.8 L490.1,34.2 L490.1,34.6 L490.2,35.0 L490.2,35.4 L490.2,35.9 L490.3,36.3 L490.3,36.7 L490.4,37.2 L490.4,37.6 L490.4,38.1 L490.5,38.5 L490.5,39.0 L490.6,39.5 L490.6,40.0 L490.6,40.5 L490.7,41.1 L490.7,41.6 L490.8,42.2 L490.8,42.7 L490.9,43.3 L490.9,43.9 L490.9,44.5 L491.0,45.1 L491.0,45.8 L491.1,46.4 L491.1,47.1 L491.1,47.8 L491.2,48.6 L491.2,49.3 L491.3,50.1 L491.3,50.9 L491.3,51.7 L491.4,52.5 L491.4,53.4 L491.5,54.3 L491.5,55.3 L491.5,56.3 L491.6,57.3 L491.6,58.3 L491.7,59.5 L491.7,60.6 L491.7,61.8 L491.8,63.1 L491.8,64.4 L491.9,65.8 L491.9,67.3 L491.9,68.9 L492.0,70.6 L492.0,72.3 L492.1,74.2 L492.1,76.3 L492.1,78.4 L492.2,80.8 L492.2,83.4 L492.3,86.2 L492.3,89.3 L492.3,92.7 L492.4,96.6 L492.4,101.1 L492.5,106.3 L492.5,112.5 L492.5,118.6 L492.9,115.3 L492.9,107.7 L492.9,101.5 L493.0,96.1 L493.0,91.5 L493.1,87.3 L493.1,83.5 L493.2,80.1 L493.2,77.0 L493.2,74.0 L493.3,71.3 L493.3,68.7 L493.4,66.3 L493.4,64.0 L493.4,61.9 L493.5,59.8 L493.5,57.9 L493.6,56.0 L493.6,54.2 L493.6,52.4 L493.7,50.8 L493.7,49.2 L493.8,47.6 L493.8,46.1 L493.8,44.7 L493.9,43.3 L493.9,41.9 L494.0,40.6 L494.0,39.3 L494.0,38.1 L494.1,36.9 L494.1,35.7 L494.2,34.6 L494.2,33.5 L494.2,32.4 L494.3,31.4 L494.3,30.3 L494.4,29.4 L494.4,28.4 L494.4,27.5 L494.5,26.6 L494.5,25.7 L494.6,24.9 L494.6,24.1 L494.6,23.3 L494.7,22.5 L494.7,21.8 L494.8,21.1 L494.8,20.4 L494.8,19.7 L494.9,19.1 L494.9,18.5 L495.0,17.9 L495.0,17.3 L495.0,16.8 L495.1,16.3 L495.1,15.8 L495.2,15.4 L495.2,15.0 L495.2,14.6 L495.3,14.2 L495.3,13.8 L495.4,13.5 L495.5,12.9 L495.5,12.4 L495.6,12.0 L495.7,11.7 L495.8,11.4 L496.0,11.2 L496.2,11.4 L496.3,11.7 L496.5,12.1 L496.5,12.4 L496.6,12.8 L496.7,13.1 L496.8,13.5 L496.9,14.0 L496.9,14.4 L497.0,14.9 L497.1,15.4 L497.2,15.9 L497.3,16.5 L497.3,17.0 L497.4,17.6 L497.5,18.1 L497.6,18.7 L497.7,19.3 L497.8,19.9 L497.8,20.5 L497.9,20.8 L497.9,21.1 L498.0,21.5 L498.0,21.8 L498.0,22.1 L498.1,22.4 L498.1,22.7 L498.2,23.1 L498.2,23.4 L498.2,23.7 L498.3,24.0 L498.3,24.4 L498.4,24.7 L498.4,25.0 L498.4,25.4 L498.5,25.7 L498.5,26.1 L498.6,26.4 L498.6,26.7 L498.6,27.1 L498.7,27.4 L498.7,27.8 L498.8,28.2 L498.8,28.5 L498.8,28.9 L498.9,29.2 L498.9,29.6 L499.0,29.9 L499.0,30.3 L499.0,30.7 L499.1,31.1 L499.1,31.4 L499.2,31.8 L499.2,32.2 L499.2,32.6 L499.3,32.9 L499.3,33.3 L499.4,33.7 L499.4,34.1 L499.4,34.5 L499.5,34.9 L499.5,35.3 L499.6,35.7 L499.6,36.1 L499.6,36.5 L499.7,36.9 L499.7,37.4 L499.8,37.8 L499.8,38.2 L499.9,38.6 L499.9,39.1 L499.9,39.5 L500.0,39.9 L500.0,40.4 L500.1,40.8 L500.1,41.3 L500.1,41.7 L500.2,42.2 L500.2,42.7 L500.3,43.1 L500.3,43.6 L500.3,44.1 L500.4,44.6 L500.4,45.1 L500.5,45.6 L500.5,46.1 L500.5,46.6 L500.6,47.1 L500.6,47.6 L500.7,48.2 L500.7,48.7 L500.7,49.2 L500.8,49.8 L500.8,50.3 L500.9,50.9 L500.9,51.5 L500.9,52.1 L501.0,52.7 L501.0,53.3 L501.1,53.9 L501.1,54.5 L501.1,55.1 L501.2,55.8 L501.2,56.4 L501.3,57.1 L501.3,57.7 L501.3,58.4 L501.4,59.1 L501.4,59.8 L501.5,60.6 L501.5,61.3 L501.5,62.1 L501.6,62.8 L501.6,63.6 L501.7,64.4 L501.7,65.2 L501.7,66.1 L501.8,66.9 L501.8,67.8 L501.9,68.7 L501.9,69.7 L501.9,70.6 L502.0,71.6 L502.0,72.6 L502.1,73.6 L502.1,74.7 L502.2,75.8 L502.2,76.9 L502.2,78.1 L502.3,79.3 L502.3,80.6 L502.4,81.9 L502.4,83.2 L502.4,84.6 L502.5,86.1 L502.5,87.6 L502.6,89.2 L502.6,90.9 L502.6,92.7 L502.7,94.5 L502.7,96.5 L502.8,98.6 L502.8,100.8 L502.8,103.2 L502.9,105.7 L502.9,108.5 L503.0,111.5 L503.0,114.8 L503.0,118.4 L503.1,122.4 L503.1,127.0 L503.2,132.3 L503.2,138.6 L503.2,146.4 L503.3,149.6 L503.6,145.4 L503.6,137.9 L503.6,131.7 L503.7,126.5 L503.7,122.0 L503.8,118.0 L503.8,114.4 L503.8,111.2 L503.9,108.2 L503.9,105.5 L504.0,103.0 L504.0,100.7 L504.0,98.5 L504.1,96.4 L504.1,94.5 L504.2,92.6 L504.2,90.9 L504.2,89.2 L504.3,87.6 L504.3,86.1 L504.4,84.6 L504.4,83.3 L504.5,81.9 L504.5,80.6 L504.5,79.4 L504.6,78.2 L504.6,77.0 L504.7,75.9 L504.7,74.8 L504.7,73.8 L504.8,72.7 L504.8,71.7 L504.9,70.8 L504.9,69.8 L504.9,68.9 L505.0,68.0 L505.0,67.2 L505.1,66.3 L505.1,65.5 L505.1,64.7 L505.2,63.9 L505.2,63.1 L505.3,62.4 L505.3,61.6 L505.3,60.9 L505.4,60.2 L505.4,59.5 L505.5,58.8 L505.5,58.1 L505.5,57.5 L505.6,56.8 L505.6,56.2 L505.7,55.6 L505.7,55.0 L505.7,54.4 L505.8,53.8 L505.8,53.2 L505.9,52.6 L505.9,52.1 L505.9,51.5 L506.0,51.0 L506.0,50.4 L506.1,49.9 L506.1,49.4 L506.1,48.9 L506.2,48.3 L506.2,47.8 L506.3,47.4 L506.3,46.9 L506.3,46.4 L506.4,45.9 L506.4,45.4 L506.5,45.0 L506.5,44.5 L506.6,44.1 L506.6,43.6 L506.6,43.2 L506.7,42.8 L506.7,42.3 L506.8,41.9 L506.8,41.5 L506.8,41.1 L506.9,40.7 L506.9,40.3 L507.0,39.9 L507.0,39.5 L507.0,39.1 L507.1,38.7 L507.1,38.3 L507.2,37.9 L507.2,37.5 L507.2,37.2 L507.3,36.8 L507.3,36.4 L507.4,36.1 L507.4,35.7 L507.4,35.4 L507.5,35.0 L507.5,34.7 L507.6,34.3 L507.6,34.0 L507.6,33.6 L507.7,33.3 L507.7,33.0 L507.8,32.6 L507.8,32.3 L507.8,32.0 L507.9,31.7 L507.9,31.4 L508.0,31.1 L508.0,30.7 L508.1,30.1 L508.2,29.5 L508.2,28.9 L508.3,28.4 L508.4,27.8 L508.5,27.2 L508.6,26.7 L508.6,26.1 L508.7,25.6 L508.8,25.1 L508.9,24.5 L509.0,24.0 L509.1,23.5 L509.1,23.0 L509.2,22.6 L509.3,22.1 L509.4,21.6 L509.5,21.2 L509.5,20.7 L509.6,20.3 L509.7,19.8 L509.8,19.4 L509.9,19.0 L509.9,18.6 L510.0,18.2 L510.1,17.8 L510.2,17.4 L510.3,17.0 L510.3,16.6 L510.4,16.3 L510.5,15.9 L510.6,15.6 L510.7,15.3 L510.7,14.9 L510.8,14.6 L510.9,14.3 L511.0,14.0 L511.1,13.7 L511.2,13.4 L511.3,13.0 L511.4,12.6 L511.6,12.3 L511.7,12.0 L511.8,11.8 L512.0,11.5 L512.1,11.3 L512.4,11.2 L512.6,11.3 L512.8,11.5 L512.9,11.8 L513.0,12.1 L513.2,12.5 L513.2,12.8 L513.3,13.2 L513.4,13.6 L513.5,14.0 L513.6,14.5 L513.7,15.0 L513.7,15.6 L513.8,15.9 L513.8,16.3 L513.9,16.6 L513.9,17.0 L513.9,17.3 L514.0,17.7 L514.0,18.1 L514.1,18.5 L514.1,19.0 L514.1,19.4 L514.2,19.9 L514.2,20.4 L514.3,20.9 L514.3,21.4 L514.3,21.9 L514.4,22.5 L514.4,23.0 L514.5,23.6 L514.5,24.2 L514.5,24.9 L514.6,25.5 L514.6,26.2 L514.7,26.9 L514.7,27.6 L514.7,28.3 L514.8,29.1 L514.8,29.9 L514.9,30.7 L514.9,31.6 L514.9,32.4 L515.0,33.3 L515.0,34.3 L515.1,35.2 L515.1,36.2 L515.1,37.3 L515.2,38.3 L515.2,39.4 L515.3,40.6 L515.3,41.8 L515.3,43.0 L515.4,44.3 L515.4,45.6 L515.5,47.0 L515.5,48.4 L515.5,49.9 L515.6,51.5 L515.6,53.1 L515.7,54.8 L515.7,56.6 L515.8,58.5 L515.8,60.5 L515.8,62.6 L515.9,64.8 L515.9,67.2 L516.0,69.8 L516.0,72.5 L516.0,75.5 L516.1,78.7 L516.1,82.2 L516.2,86.1 L516.2,90.5 L516.2,95.5 L516.3,101.3 L516.3,106.0 L516.7,106.0 L516.7,103.4 L516.8,97.9 L516.8,93.1 L516.8,89.0 L516.9,85.3 L516.9,82.1 L517.0,79.1 L517.0,76.4 L517.0,74.0 L517.1,71.7 L517.1,69.6 L517.2,67.6 L517.2,65.8 L517.2,64.0 L517.3,62.4 L517.3,60.9 L517.4,59.4 L517.4,58.0 L517.4,56.7 L517.5,55.5 L517.5,54.3 L517.6,53.2 L517.6,52.1 L517.6,51.0 L517.7,50.0 L517.7,49.1 L517.8,48.1 L517.8,47.3 L517.9,46.4 L517.9,45.6 L517.9,44.8 L518.0,44.0 L518.0,43.3 L518.1,42.6 L518.1,41.9 L518.1,41.2 L518.2,40.5 L518.2,39.9 L518.3,39.3 L518.3,38.7 L518.3,38.1 L518.4,37.6 L518.4,37.0 L518.5,36.5 L518.5,36.0 L518.5,35.5 L518.6,35.0 L518.6,34.5 L518.7,34.0 L518.7,33.6 L518.7,33.1 L518.8,32.7 L518.8,32.3 L518.9,31.9 L518.9,31.5 L518.9,31.1 L519.0,30.7 L519.0,30.3 L519.1,30.0 L519.1,29.6 L519.1,29.3 L519.2,28.9 L519.2,28.6 L519.3,28.3 L519.3,27.9 L519.3,27.6 L519.4,27.0 L519.5,26.4 L519.6,25.9 L519.7,25.4 L519.7,24.8 L519.8,24.3 L519.9,23.9 L520.0,23.4 L520.1,23.0 L520.2,22.5 L520.2,22.1 L520.3,21.7 L520.4,21.4 L520.5,21.0 L520.6,20.6 L520.6,20.3 L520.7,20.0 L520.8,19.7 L520.9,19.3 L521.0,19.1 L521.0,18.8 L521.1,18.5 L521.2,18.1 L521.4,17.7 L521.5,17.3 L521.6,17.0 L521.7,16.7 L521.8,16.4 L522.0,16.1 L522.1,15.8 L522.2,15.5 L522.3,15.2 L522.5,15.0 L522.6,14.8 L522.7,14.5 L522.9,14.2 L523.1,13.9 L523.2,13.7 L523.4,13.5 L523.5,13.2 L523.7,13.0 L523.9,12.8 L524.1,12.6 L524.3,12.4 L524.5,12.2 L524.7,12.1 L525.0,11.9 L525.2,11.8 L525.4,11.6 L525.7,11.5 L526.0,11.4 L526.2,11.3 L526.6,11.3 L526.9,11.2 L527.3,11.2 L527.6,11.2 L528.0,11.2 L528.3,11.3 L528.6,11.3 L528.9,11.4 L529.2,11.5 L529.5,11.6 L529.8,11.7 L530.0,11.8 L530.3,11.9 L530.5,12.0 L530.8,12.2 L531.0,12.3 L531.2,12.4 L531.5,12.6 L531.7,12.8 L532.0,12.9 L532.2,13.1 L532.4,13.2 L532.6,13.4 L532.8,13.6 L533.0,13.7 L533.2,13.9 L533.4,14.1 L533.6,14.3 L533.8,14.5 L534.0,14.8 L534.2,15.0 L534.4,15.2 L534.5,15.4 L534.7,15.6 L534.8,15.8 L535.0,16.0 L535.2,16.3 L535.3,16.5 L535.5,16.8 L535.6,17.1 L535.8,17.4 L535.9,17.6 L536.1,17.8 L536.2,18.1 L536.3,18.4 L536.4,18.6 L536.5,18.9 L536.7,19.2 L536.8,19.6 L536.9,19.9 L537.0,20.2 L537.1,20.6 L537.3,21.0 L537.3,21.3 L537.4,21.6 L537.5,21.9 L537.6,22.2 L537.7,22.6 L537.7,22.9 L537.8,23.3 L537.9,23.7 L538.0,24.1 L538.1,24.6 L538.2,25.0 L538.2,25.5 L538.3,26.0 L538.4,26.6 L538.5,27.2 L538.5,27.5 L538.6,27.8 L538.6,28.2 L538.6,28.5 L538.7,28.9 L538.7,29.2 L538.8,29.6 L538.8,30.0 L538.8,30.4 L538.9,30.9 L538.9,31.3 L539.0,31.8 L539.0,32.3 L539.0,32.8 L539.1,33.3 L539.1,33.9 L539.2,34.5 L539.2,35.1 L539.2,35.7 L539.3,36.4 L539.3,37.1 L539.4,37.9 L539.4,38.6 L539.4,39.5 L539.5,40.4 L539.5,41.3 L539.6,42.3 L539.6,43.3 L539.6,44.4 L539.7,45.6 L539.7,46.9 L539.8,48.2 L539.8,49.7 L539.8,51.3 L539.9,53.0 L539.9,54.9 L540.0,56.9 L540.0,59.1 L540.0,61.6 L540.1,64.3 L540.1,67.4 L540.2,70.8 L540.2,74.8 L540.2,79.5 L540.3,85.0 L540.3,91.8 L540.4,100.7 L540.4,112.9 L540.5,133.0 L540.5,135.7 L540.6,119.0 L540.6,103.4 L540.7,92.6 L540.7,84.3 L540.7,77.5 L540.8,71.8 L540.8,66.8 L540.9,62.5 L540.9,58.6 L540.9,55.1 L541.0,51.9 L541.0,48.9 L541.1,46.2 L541.1,43.8 L541.1,41.5 L541.2,39.3 L541.2,37.3 L541.3,35.5 L541.3,33.8 L541.3,32.2 L541.4,30.6 L541.4,29.2 L541.5,27.9 L541.5,26.7 L541.5,26.7" stroke="#c00000" stroke-width="2" stroke-dasharray="5 2.1"/>
<path d="M540.3,12.4 V135.6" stroke="#c00000" stroke-width="3.1"/>
</g>
<g stroke="#000" stroke-width="1.5"><path d="M298.9,208.0 v4.5"/><path d="M347.5,208.0 v4.5"/><path d="M396.1,208.0 v4.5"/><path d="M444.7,208.0 v4.5"/><path d="M493.3,208.0 v4.5"/><path d="M541.9,208.0 v4.5"/><path d="M298.9,10.9 h-5"/><path d="M298.9,50.3 h-5"/><path d="M298.9,89.7 h-5"/><path d="M298.9,129.2 h-5"/><path d="M298.9,168.6 h-5"/><path d="M298.9,208.0 h-5"/><path d="M541.9,50.3 h-3.8"/><path d="M541.9,89.7 h-3.8"/><path d="M541.9,129.2 h-3.8"/><path d="M541.9,168.6 h-3.8"/><path d="M347.5,10.9 v4.2"/><path d="M396.1,10.9 v4.2"/><path d="M444.7,10.9 v4.2"/><path d="M493.3,10.9 v4.2"/></g>
<g font-size="12" text-anchor="end"><text x="292.6" y="14.8">0</text><text x="292.6" y="54.2">-10</text><text x="292.6" y="93.6">-20</text><text x="292.6" y="133.0">-30</text><text x="292.6" y="172.4">-40</text><text x="292.6" y="211.8">-50</text></g>
<g font-size="12" text-anchor="middle"><text x="298.9" y="226.1">0</text><text x="347.5" y="226.1">7</text><text x="396.1" y="226.1">14</text><text x="444.7" y="226.1">21</text><text x="493.3" y="226.1">28</text><text x="541.9" y="226.1">35</text></g>
<text x="420.4" y="243.9" font-size="14" text-anchor="middle">Frequency (GHz)</text>
<text transform="translate(268.9,108.5) rotate(-90)" font-size="14.1" text-anchor="middle">Trans. and Ref. Coefficients (dB)</text>
<rect x="359" y="167.1" width="61.8" height="33.6" fill="#fff" stroke="#000" stroke-width="1.8"/>
<path d="M361.4,176.8 H382.7" stroke="#000" stroke-width="2.4"/><path d="M361.3,192.6 H383.6" stroke="#c00000" stroke-width="2.2" stroke-dasharray="5.7 1.8"/>
<text x="385.9" y="179.9" font-size="12" fill="#222" stroke="#222" stroke-width="0.25"><tspan font-style="italic">θ</tspan> = 0<tspan dy="-3.4" dx="-0.3" font-size="12.5" stroke-width="0.5">°</tspan></text>
<text x="385.9" y="195.5" font-size="12" fill="#222" stroke="#222" stroke-width="0.25"><tspan font-style="italic">θ</tspan> = 45<tspan dy="-3.4" dx="-0.3" font-size="12.5" stroke-width="0.5">°</tspan></text>
<text x="311.6" y="118.8" font-size="9.5" textLength="21" lengthAdjust="spacingAndGlyphs" fill="#222">Trans.</text>
<ellipse cx="353.5" cy="116.8" rx="7.6" ry="3.6" fill="none" stroke="#000" stroke-width="1.1"/><path d="M345.9,116.8 H335.4" stroke="#000" stroke-width="1.1" marker-end="url(#ah2)"/>
<text x="387.4" y="141.2" font-size="9.5" textLength="17.6" lengthAdjust="spacingAndGlyphs" fill="#222">Refl.</text>
<ellipse cx="431" cy="137.8" rx="10.2" ry="4.5" fill="none" stroke="#000" stroke-width="1.1"/><path d="M420.8,137.8 H407.6" stroke="#000" stroke-width="1.1" marker-end="url(#ah2)"/>
<text id="label-b" font-size="17.4"><tspan x="392.6" y="273.9">(</tspan><tspan x="398.7" y="273.1" font-size="15.5" font-weight="bold" textLength="9.2" lengthAdjust="spacingAndGlyphs">b</tspan><tspan x="408.2" y="273.9">)</tspan></text>
</g>
</svg>
</body></html>
